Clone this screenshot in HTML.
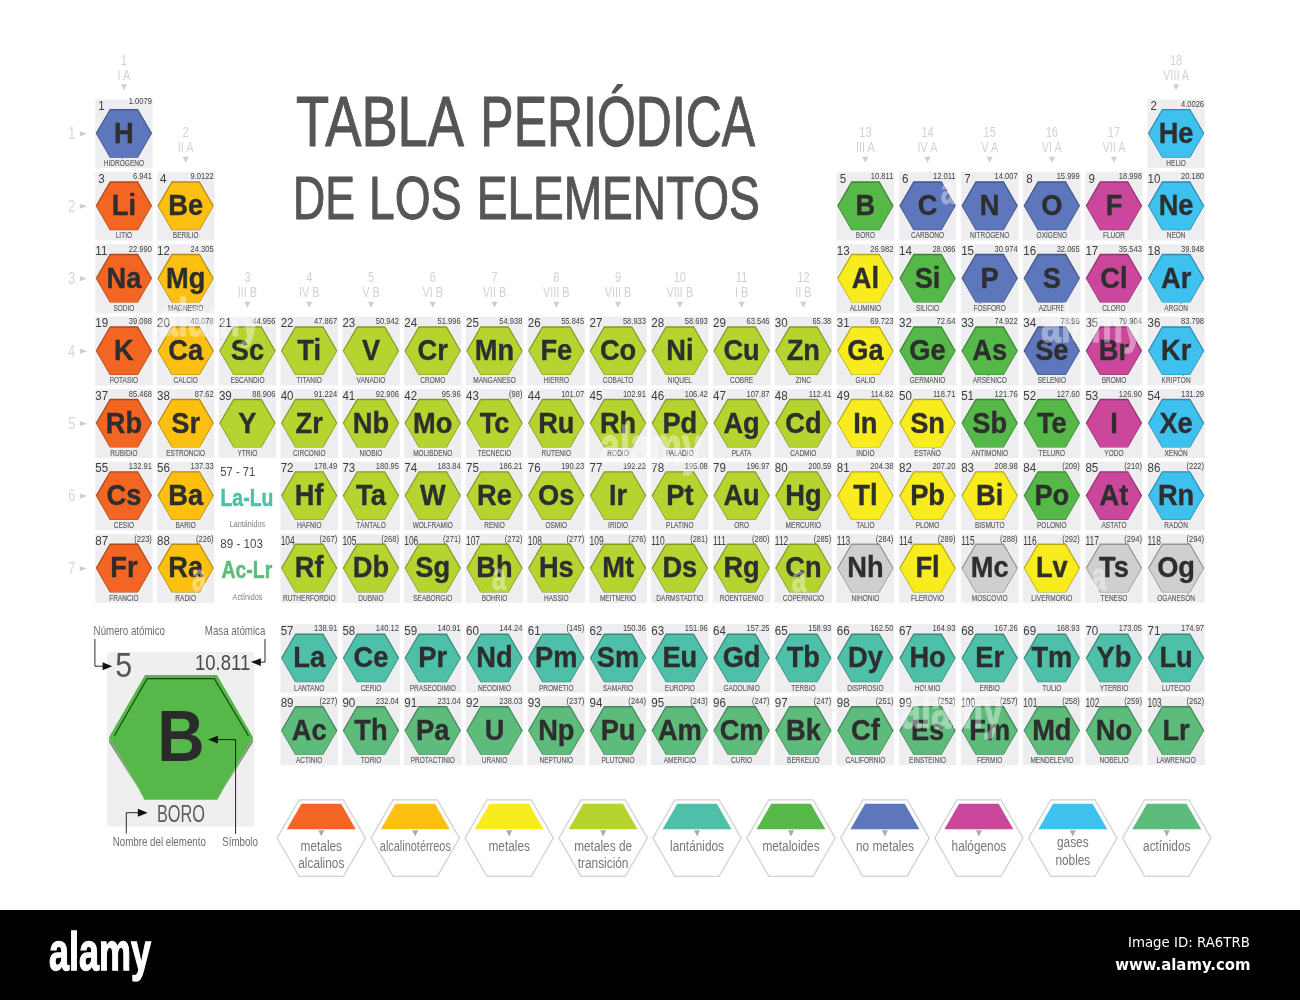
<!DOCTYPE html>
<html lang="es"><head><meta charset="utf-8"><title>Tabla Periódica de los Elementos</title><style>
html,body{margin:0;padding:0;background:#fff}
body{width:1300px;height:1000px;overflow:hidden}
svg{display:block}
text{font-family:"Liberation Sans",Arial,Helvetica,sans-serif}
.cb{fill:#eeeef0}
.zn{font-size:13px;fill:#3d3d3d}
.ms{font-size:8.4px;fill:#444}
.sy{font-size:29px;font-weight:700;fill:#2e2e2e;stroke:#2e2e2e;stroke-width:.35px}
.nm{font-size:8.6px;fill:#606060;stroke:#606060;stroke-width:.15px}
.nm2{font-size:8.6px;fill:#7c7c7c}
.rg{font-size:13.1px;fill:#4a4a4a}
.ll{font-size:23.7px;font-weight:700;stroke-width:.5px}
.gl{font-size:13.8px;fill:#d2d2d2}
.pl{font-size:15.6px;fill:#d6d6d6}
.ti{fill:#555;stroke:#555;stroke-width:1px}
.bsy{font-size:72px;font-weight:700;fill:#2b2b2b}
.bzn{font-size:34.2px;fill:#555}
.bms{font-size:22.1px;fill:#4a4a4a}
.bnm{font-size:24.4px;fill:#5a5a5a}
.kl{font-size:12.5px;fill:#6e6e6e}
.lg{font-size:15px;fill:#777}
.lg2{font-size:14.2px;fill:#777}
.wm text{font-weight:700;font-size:54.5px;fill:#fff;stroke:#fff;stroke-width:1.2px;opacity:.4}
.wm text.wa{font-size:38px;stroke-width:.8px;opacity:.4}
.ft{font-family:"DejaVu Sans","Liberation Sans",sans-serif;fill:#fff}
</style></head><body>
<svg width="1300" height="1000" viewBox="0 0 1300 1000">
<g id="cells">
<rect class="cb" x="95.15" y="99.3" width="57.5" height="68.8"/>
<rect class="cb" x="1147.35" y="99.3" width="57.5" height="68.8"/>
<rect class="cb" x="95.15" y="171.75" width="57.5" height="68.8"/>
<rect class="cb" x="156.92" y="171.75" width="57.5" height="68.8"/>
<rect class="cb" x="836.65" y="171.75" width="57.5" height="68.8"/>
<rect class="cb" x="898.79" y="171.75" width="57.5" height="68.8"/>
<rect class="cb" x="960.93" y="171.75" width="57.5" height="68.8"/>
<rect class="cb" x="1023.07" y="171.75" width="57.5" height="68.8"/>
<rect class="cb" x="1085.21" y="171.75" width="57.5" height="68.8"/>
<rect class="cb" x="1147.35" y="171.75" width="57.5" height="68.8"/>
<rect class="cb" x="95.15" y="244.2" width="57.5" height="68.8"/>
<rect class="cb" x="156.92" y="244.2" width="57.5" height="68.8"/>
<rect class="cb" x="836.65" y="244.2" width="57.5" height="68.8"/>
<rect class="cb" x="898.79" y="244.2" width="57.5" height="68.8"/>
<rect class="cb" x="960.93" y="244.2" width="57.5" height="68.8"/>
<rect class="cb" x="1023.07" y="244.2" width="57.5" height="68.8"/>
<rect class="cb" x="1085.21" y="244.2" width="57.5" height="68.8"/>
<rect class="cb" x="1147.35" y="244.2" width="57.5" height="68.8"/>
<rect class="cb" x="95.15" y="316.65" width="57.5" height="68.8"/>
<rect class="cb" x="156.92" y="316.65" width="57.5" height="68.8"/>
<rect class="cb" x="218.69" y="316.65" width="57.5" height="68.8"/>
<rect class="cb" x="280.46" y="316.65" width="57.5" height="68.8"/>
<rect class="cb" x="342.23" y="316.65" width="57.5" height="68.8"/>
<rect class="cb" x="404" y="316.65" width="57.5" height="68.8"/>
<rect class="cb" x="465.77" y="316.65" width="57.5" height="68.8"/>
<rect class="cb" x="527.54" y="316.65" width="57.5" height="68.8"/>
<rect class="cb" x="589.31" y="316.65" width="57.5" height="68.8"/>
<rect class="cb" x="651.08" y="316.65" width="57.5" height="68.8"/>
<rect class="cb" x="712.85" y="316.65" width="57.5" height="68.8"/>
<rect class="cb" x="774.62" y="316.65" width="57.5" height="68.8"/>
<rect class="cb" x="836.65" y="316.65" width="57.5" height="68.8"/>
<rect class="cb" x="898.79" y="316.65" width="57.5" height="68.8"/>
<rect class="cb" x="960.93" y="316.65" width="57.5" height="68.8"/>
<rect class="cb" x="1023.07" y="316.65" width="57.5" height="68.8"/>
<rect class="cb" x="1085.21" y="316.65" width="57.5" height="68.8"/>
<rect class="cb" x="1147.35" y="316.65" width="57.5" height="68.8"/>
<rect class="cb" x="95.15" y="389.1" width="57.5" height="68.8"/>
<rect class="cb" x="156.92" y="389.1" width="57.5" height="68.8"/>
<rect class="cb" x="218.69" y="389.1" width="57.5" height="68.8"/>
<rect class="cb" x="280.46" y="389.1" width="57.5" height="68.8"/>
<rect class="cb" x="342.23" y="389.1" width="57.5" height="68.8"/>
<rect class="cb" x="404" y="389.1" width="57.5" height="68.8"/>
<rect class="cb" x="465.77" y="389.1" width="57.5" height="68.8"/>
<rect class="cb" x="527.54" y="389.1" width="57.5" height="68.8"/>
<rect class="cb" x="589.31" y="389.1" width="57.5" height="68.8"/>
<rect class="cb" x="651.08" y="389.1" width="57.5" height="68.8"/>
<rect class="cb" x="712.85" y="389.1" width="57.5" height="68.8"/>
<rect class="cb" x="774.62" y="389.1" width="57.5" height="68.8"/>
<rect class="cb" x="836.65" y="389.1" width="57.5" height="68.8"/>
<rect class="cb" x="898.79" y="389.1" width="57.5" height="68.8"/>
<rect class="cb" x="960.93" y="389.1" width="57.5" height="68.8"/>
<rect class="cb" x="1023.07" y="389.1" width="57.5" height="68.8"/>
<rect class="cb" x="1085.21" y="389.1" width="57.5" height="68.8"/>
<rect class="cb" x="1147.35" y="389.1" width="57.5" height="68.8"/>
<rect class="cb" x="95.15" y="461.55" width="57.5" height="68.8"/>
<rect class="cb" x="156.92" y="461.55" width="57.5" height="68.8"/>
<rect class="cb" x="280.46" y="461.55" width="57.5" height="68.8"/>
<rect class="cb" x="342.23" y="461.55" width="57.5" height="68.8"/>
<rect class="cb" x="404" y="461.55" width="57.5" height="68.8"/>
<rect class="cb" x="465.77" y="461.55" width="57.5" height="68.8"/>
<rect class="cb" x="527.54" y="461.55" width="57.5" height="68.8"/>
<rect class="cb" x="589.31" y="461.55" width="57.5" height="68.8"/>
<rect class="cb" x="651.08" y="461.55" width="57.5" height="68.8"/>
<rect class="cb" x="712.85" y="461.55" width="57.5" height="68.8"/>
<rect class="cb" x="774.62" y="461.55" width="57.5" height="68.8"/>
<rect class="cb" x="836.65" y="461.55" width="57.5" height="68.8"/>
<rect class="cb" x="898.79" y="461.55" width="57.5" height="68.8"/>
<rect class="cb" x="960.93" y="461.55" width="57.5" height="68.8"/>
<rect class="cb" x="1023.07" y="461.55" width="57.5" height="68.8"/>
<rect class="cb" x="1085.21" y="461.55" width="57.5" height="68.8"/>
<rect class="cb" x="1147.35" y="461.55" width="57.5" height="68.8"/>
<rect class="cb" x="95.15" y="534" width="57.5" height="68.8"/>
<rect class="cb" x="156.92" y="534" width="57.5" height="68.8"/>
<rect class="cb" x="280.46" y="534" width="57.5" height="68.8"/>
<rect class="cb" x="342.23" y="534" width="57.5" height="68.8"/>
<rect class="cb" x="404" y="534" width="57.5" height="68.8"/>
<rect class="cb" x="465.77" y="534" width="57.5" height="68.8"/>
<rect class="cb" x="527.54" y="534" width="57.5" height="68.8"/>
<rect class="cb" x="589.31" y="534" width="57.5" height="68.8"/>
<rect class="cb" x="651.08" y="534" width="57.5" height="68.8"/>
<rect class="cb" x="712.85" y="534" width="57.5" height="68.8"/>
<rect class="cb" x="774.62" y="534" width="57.5" height="68.8"/>
<rect class="cb" x="836.65" y="534" width="57.5" height="68.8"/>
<rect class="cb" x="898.79" y="534" width="57.5" height="68.8"/>
<rect class="cb" x="960.93" y="534" width="57.5" height="68.8"/>
<rect class="cb" x="1023.07" y="534" width="57.5" height="68.8"/>
<rect class="cb" x="1085.21" y="534" width="57.5" height="68.8"/>
<rect class="cb" x="1147.35" y="534" width="57.5" height="68.8"/>
<rect class="cb" x="280.46" y="623.9" width="57.5" height="68.8"/>
<rect class="cb" x="342.23" y="623.9" width="57.5" height="68.8"/>
<rect class="cb" x="404" y="623.9" width="57.5" height="68.8"/>
<rect class="cb" x="465.77" y="623.9" width="57.5" height="68.8"/>
<rect class="cb" x="527.54" y="623.9" width="57.5" height="68.8"/>
<rect class="cb" x="589.31" y="623.9" width="57.5" height="68.8"/>
<rect class="cb" x="651.08" y="623.9" width="57.5" height="68.8"/>
<rect class="cb" x="712.85" y="623.9" width="57.5" height="68.8"/>
<rect class="cb" x="774.62" y="623.9" width="57.5" height="68.8"/>
<rect class="cb" x="836.65" y="623.9" width="57.5" height="68.8"/>
<rect class="cb" x="898.79" y="623.9" width="57.5" height="68.8"/>
<rect class="cb" x="960.93" y="623.9" width="57.5" height="68.8"/>
<rect class="cb" x="1023.07" y="623.9" width="57.5" height="68.8"/>
<rect class="cb" x="1085.21" y="623.9" width="57.5" height="68.8"/>
<rect class="cb" x="1147.35" y="623.9" width="57.5" height="68.8"/>
<rect class="cb" x="280.46" y="696.4" width="57.5" height="68.8"/>
<rect class="cb" x="342.23" y="696.4" width="57.5" height="68.8"/>
<rect class="cb" x="404" y="696.4" width="57.5" height="68.8"/>
<rect class="cb" x="465.77" y="696.4" width="57.5" height="68.8"/>
<rect class="cb" x="527.54" y="696.4" width="57.5" height="68.8"/>
<rect class="cb" x="589.31" y="696.4" width="57.5" height="68.8"/>
<rect class="cb" x="651.08" y="696.4" width="57.5" height="68.8"/>
<rect class="cb" x="712.85" y="696.4" width="57.5" height="68.8"/>
<rect class="cb" x="774.62" y="696.4" width="57.5" height="68.8"/>
<rect class="cb" x="836.65" y="696.4" width="57.5" height="68.8"/>
<rect class="cb" x="898.79" y="696.4" width="57.5" height="68.8"/>
<rect class="cb" x="960.93" y="696.4" width="57.5" height="68.8"/>
<rect class="cb" x="1023.07" y="696.4" width="57.5" height="68.8"/>
<rect class="cb" x="1085.21" y="696.4" width="57.5" height="68.8"/>
<rect class="cb" x="1147.35" y="696.4" width="57.5" height="68.8"/>
</g>
<g id="hexes">
<polygon fill="#425487" points="95.7,133.3 109.8,108.88 138,108.88 152.1,133.3 138,157.72 109.8,157.72"/>
<polygon fill="#5d76bc" points="96.8,133.8 110.35,110.33 137.45,110.33 151,133.8 137.45,157.27 110.35,157.27"/>
<polygon fill="#2c8aac" points="1147.9,133.3 1162,108.88 1190.2,108.88 1204.3,133.3 1190.2,157.72 1162,157.72"/>
<polygon fill="#3ec1ef" points="1149,133.8 1162.55,110.33 1189.65,110.33 1203.2,133.8 1189.65,157.27 1162.55,157.27"/>
<polygon fill="#ae4818" points="95.7,205.75 109.8,181.33 138,181.33 152.1,205.75 138,230.17 109.8,230.17"/>
<polygon fill="#f26522" points="96.8,206.25 110.35,182.78 137.45,182.78 151,206.25 137.45,229.72 110.35,229.72"/>
<polygon fill="#b68a0b" points="157.47,205.75 171.57,181.33 199.77,181.33 213.87,205.75 199.77,230.17 171.57,230.17"/>
<polygon fill="#fdc010" points="158.57,206.25 172.12,182.78 199.22,182.78 212.77,206.25 199.22,229.72 172.12,229.72"/>
<polygon fill="#3d8433" points="837.2,205.75 851.3,181.33 879.5,181.33 893.6,205.75 879.5,230.17 851.3,230.17"/>
<polygon fill="#55b848" points="838.3,206.25 851.85,182.78 878.95,182.78 892.5,206.25 878.95,229.72 851.85,229.72"/>
<polygon fill="#425487" points="899.34,205.75 913.44,181.33 941.64,181.33 955.74,205.75 941.64,230.17 913.44,230.17"/>
<polygon fill="#5d76bc" points="900.44,206.25 913.99,182.78 941.09,182.78 954.64,206.25 941.09,229.72 913.99,229.72"/>
<polygon fill="#425487" points="961.48,205.75 975.58,181.33 1003.78,181.33 1017.88,205.75 1003.78,230.17 975.58,230.17"/>
<polygon fill="#5d76bc" points="962.58,206.25 976.13,182.78 1003.23,182.78 1016.78,206.25 1003.23,229.72 976.13,229.72"/>
<polygon fill="#425487" points="1023.62,205.75 1037.72,181.33 1065.92,181.33 1080.02,205.75 1065.92,230.17 1037.72,230.17"/>
<polygon fill="#5d76bc" points="1024.72,206.25 1038.27,182.78 1065.37,182.78 1078.92,206.25 1065.37,229.72 1038.27,229.72"/>
<polygon fill="#913370" points="1085.76,205.75 1099.86,181.33 1128.06,181.33 1142.16,205.75 1128.06,230.17 1099.86,230.17"/>
<polygon fill="#ca479c" points="1086.86,206.25 1100.41,182.78 1127.51,182.78 1141.06,206.25 1127.51,229.72 1100.41,229.72"/>
<polygon fill="#2c8aac" points="1147.9,205.75 1162,181.33 1190.2,181.33 1204.3,205.75 1190.2,230.17 1162,230.17"/>
<polygon fill="#3ec1ef" points="1149,206.25 1162.55,182.78 1189.65,182.78 1203.2,206.25 1189.65,229.72 1162.55,229.72"/>
<polygon fill="#ae4818" points="95.7,278.2 109.8,253.78 138,253.78 152.1,278.2 138,302.62 109.8,302.62"/>
<polygon fill="#f26522" points="96.8,278.7 110.35,255.23 137.45,255.23 151,278.7 137.45,302.17 110.35,302.17"/>
<polygon fill="#b68a0b" points="157.47,278.2 171.57,253.78 199.77,253.78 213.87,278.2 199.77,302.62 171.57,302.62"/>
<polygon fill="#fdc010" points="158.57,278.7 172.12,255.23 199.22,255.23 212.77,278.7 199.22,302.17 172.12,302.17"/>
<polygon fill="#b3a915" points="837.2,278.2 851.3,253.78 879.5,253.78 893.6,278.2 879.5,302.62 851.3,302.62"/>
<polygon fill="#f9ec1e" points="838.3,278.7 851.85,255.23 878.95,255.23 892.5,278.7 878.95,302.17 851.85,302.17"/>
<polygon fill="#3d8433" points="899.34,278.2 913.44,253.78 941.64,253.78 955.74,278.2 941.64,302.62 913.44,302.62"/>
<polygon fill="#55b848" points="900.44,278.7 913.99,255.23 941.09,255.23 954.64,278.7 941.09,302.17 913.99,302.17"/>
<polygon fill="#425487" points="961.48,278.2 975.58,253.78 1003.78,253.78 1017.88,278.2 1003.78,302.62 975.58,302.62"/>
<polygon fill="#5d76bc" points="962.58,278.7 976.13,255.23 1003.23,255.23 1016.78,278.7 1003.23,302.17 976.13,302.17"/>
<polygon fill="#425487" points="1023.62,278.2 1037.72,253.78 1065.92,253.78 1080.02,278.2 1065.92,302.62 1037.72,302.62"/>
<polygon fill="#5d76bc" points="1024.72,278.7 1038.27,255.23 1065.37,255.23 1078.92,278.7 1065.37,302.17 1038.27,302.17"/>
<polygon fill="#913370" points="1085.76,278.2 1099.86,253.78 1128.06,253.78 1142.16,278.2 1128.06,302.62 1099.86,302.62"/>
<polygon fill="#ca479c" points="1086.86,278.7 1100.41,255.23 1127.51,255.23 1141.06,278.7 1127.51,302.17 1100.41,302.17"/>
<polygon fill="#2c8aac" points="1147.9,278.2 1162,253.78 1190.2,253.78 1204.3,278.2 1190.2,302.62 1162,302.62"/>
<polygon fill="#3ec1ef" points="1149,278.7 1162.55,255.23 1189.65,255.23 1203.2,278.7 1189.65,302.17 1162.55,302.17"/>
<polygon fill="#ae4818" points="95.7,350.65 109.8,326.23 138,326.23 152.1,350.65 138,375.07 109.8,375.07"/>
<polygon fill="#f26522" points="96.8,351.15 110.35,327.68 137.45,327.68 151,351.15 137.45,374.62 110.35,374.62"/>
<polygon fill="#b68a0b" points="157.47,350.65 171.57,326.23 199.77,326.23 213.87,350.65 199.77,375.07 171.57,375.07"/>
<polygon fill="#fdc010" points="158.57,351.15 172.12,327.68 199.22,327.68 212.77,351.15 199.22,374.62 172.12,374.62"/>
<polygon fill="#839822" points="219.24,350.65 233.34,326.23 261.54,326.23 275.64,350.65 261.54,375.07 233.34,375.07"/>
<polygon fill="#b6d430" points="220.34,351.15 233.89,327.68 260.99,327.68 274.54,351.15 260.99,374.62 233.89,374.62"/>
<polygon fill="#839822" points="281.01,350.65 295.11,326.23 323.31,326.23 337.41,350.65 323.31,375.07 295.11,375.07"/>
<polygon fill="#b6d430" points="282.11,351.15 295.66,327.68 322.76,327.68 336.31,351.15 322.76,374.62 295.66,374.62"/>
<polygon fill="#839822" points="342.78,350.65 356.88,326.23 385.08,326.23 399.18,350.65 385.08,375.07 356.88,375.07"/>
<polygon fill="#b6d430" points="343.88,351.15 357.43,327.68 384.53,327.68 398.08,351.15 384.53,374.62 357.43,374.62"/>
<polygon fill="#839822" points="404.55,350.65 418.65,326.23 446.85,326.23 460.95,350.65 446.85,375.07 418.65,375.07"/>
<polygon fill="#b6d430" points="405.65,351.15 419.2,327.68 446.3,327.68 459.85,351.15 446.3,374.62 419.2,374.62"/>
<polygon fill="#839822" points="466.32,350.65 480.42,326.23 508.62,326.23 522.72,350.65 508.62,375.07 480.42,375.07"/>
<polygon fill="#b6d430" points="467.42,351.15 480.97,327.68 508.07,327.68 521.62,351.15 508.07,374.62 480.97,374.62"/>
<polygon fill="#839822" points="528.09,350.65 542.19,326.23 570.39,326.23 584.49,350.65 570.39,375.07 542.19,375.07"/>
<polygon fill="#b6d430" points="529.19,351.15 542.74,327.68 569.84,327.68 583.39,351.15 569.84,374.62 542.74,374.62"/>
<polygon fill="#839822" points="589.86,350.65 603.96,326.23 632.16,326.23 646.26,350.65 632.16,375.07 603.96,375.07"/>
<polygon fill="#b6d430" points="590.96,351.15 604.51,327.68 631.61,327.68 645.16,351.15 631.61,374.62 604.51,374.62"/>
<polygon fill="#839822" points="651.63,350.65 665.73,326.23 693.93,326.23 708.03,350.65 693.93,375.07 665.73,375.07"/>
<polygon fill="#b6d430" points="652.73,351.15 666.28,327.68 693.38,327.68 706.93,351.15 693.38,374.62 666.28,374.62"/>
<polygon fill="#839822" points="713.4,350.65 727.5,326.23 755.7,326.23 769.8,350.65 755.7,375.07 727.5,375.07"/>
<polygon fill="#b6d430" points="714.5,351.15 728.05,327.68 755.15,327.68 768.7,351.15 755.15,374.62 728.05,374.62"/>
<polygon fill="#839822" points="775.17,350.65 789.27,326.23 817.47,326.23 831.57,350.65 817.47,375.07 789.27,375.07"/>
<polygon fill="#b6d430" points="776.27,351.15 789.82,327.68 816.92,327.68 830.47,351.15 816.92,374.62 789.82,374.62"/>
<polygon fill="#b3a915" points="837.2,350.65 851.3,326.23 879.5,326.23 893.6,350.65 879.5,375.07 851.3,375.07"/>
<polygon fill="#f9ec1e" points="838.3,351.15 851.85,327.68 878.95,327.68 892.5,351.15 878.95,374.62 851.85,374.62"/>
<polygon fill="#3d8433" points="899.34,350.65 913.44,326.23 941.64,326.23 955.74,350.65 941.64,375.07 913.44,375.07"/>
<polygon fill="#55b848" points="900.44,351.15 913.99,327.68 941.09,327.68 954.64,351.15 941.09,374.62 913.99,374.62"/>
<polygon fill="#3d8433" points="961.48,350.65 975.58,326.23 1003.78,326.23 1017.88,350.65 1003.78,375.07 975.58,375.07"/>
<polygon fill="#55b848" points="962.58,351.15 976.13,327.68 1003.23,327.68 1016.78,351.15 1003.23,374.62 976.13,374.62"/>
<polygon fill="#425487" points="1023.62,350.65 1037.72,326.23 1065.92,326.23 1080.02,350.65 1065.92,375.07 1037.72,375.07"/>
<polygon fill="#5d76bc" points="1024.72,351.15 1038.27,327.68 1065.37,327.68 1078.92,351.15 1065.37,374.62 1038.27,374.62"/>
<polygon fill="#913370" points="1085.76,350.65 1099.86,326.23 1128.06,326.23 1142.16,350.65 1128.06,375.07 1099.86,375.07"/>
<polygon fill="#ca479c" points="1086.86,351.15 1100.41,327.68 1127.51,327.68 1141.06,351.15 1127.51,374.62 1100.41,374.62"/>
<polygon fill="#2c8aac" points="1147.9,350.65 1162,326.23 1190.2,326.23 1204.3,350.65 1190.2,375.07 1162,375.07"/>
<polygon fill="#3ec1ef" points="1149,351.15 1162.55,327.68 1189.65,327.68 1203.2,351.15 1189.65,374.62 1162.55,374.62"/>
<polygon fill="#ae4818" points="95.7,423.1 109.8,398.68 138,398.68 152.1,423.1 138,447.52 109.8,447.52"/>
<polygon fill="#f26522" points="96.8,423.6 110.35,400.13 137.45,400.13 151,423.6 137.45,447.07 110.35,447.07"/>
<polygon fill="#b68a0b" points="157.47,423.1 171.57,398.68 199.77,398.68 213.87,423.1 199.77,447.52 171.57,447.52"/>
<polygon fill="#fdc010" points="158.57,423.6 172.12,400.13 199.22,400.13 212.77,423.6 199.22,447.07 172.12,447.07"/>
<polygon fill="#839822" points="219.24,423.1 233.34,398.68 261.54,398.68 275.64,423.1 261.54,447.52 233.34,447.52"/>
<polygon fill="#b6d430" points="220.34,423.6 233.89,400.13 260.99,400.13 274.54,423.6 260.99,447.07 233.89,447.07"/>
<polygon fill="#839822" points="281.01,423.1 295.11,398.68 323.31,398.68 337.41,423.1 323.31,447.52 295.11,447.52"/>
<polygon fill="#b6d430" points="282.11,423.6 295.66,400.13 322.76,400.13 336.31,423.6 322.76,447.07 295.66,447.07"/>
<polygon fill="#839822" points="342.78,423.1 356.88,398.68 385.08,398.68 399.18,423.1 385.08,447.52 356.88,447.52"/>
<polygon fill="#b6d430" points="343.88,423.6 357.43,400.13 384.53,400.13 398.08,423.6 384.53,447.07 357.43,447.07"/>
<polygon fill="#839822" points="404.55,423.1 418.65,398.68 446.85,398.68 460.95,423.1 446.85,447.52 418.65,447.52"/>
<polygon fill="#b6d430" points="405.65,423.6 419.2,400.13 446.3,400.13 459.85,423.6 446.3,447.07 419.2,447.07"/>
<polygon fill="#839822" points="466.32,423.1 480.42,398.68 508.62,398.68 522.72,423.1 508.62,447.52 480.42,447.52"/>
<polygon fill="#b6d430" points="467.42,423.6 480.97,400.13 508.07,400.13 521.62,423.6 508.07,447.07 480.97,447.07"/>
<polygon fill="#839822" points="528.09,423.1 542.19,398.68 570.39,398.68 584.49,423.1 570.39,447.52 542.19,447.52"/>
<polygon fill="#b6d430" points="529.19,423.6 542.74,400.13 569.84,400.13 583.39,423.6 569.84,447.07 542.74,447.07"/>
<polygon fill="#839822" points="589.86,423.1 603.96,398.68 632.16,398.68 646.26,423.1 632.16,447.52 603.96,447.52"/>
<polygon fill="#b6d430" points="590.96,423.6 604.51,400.13 631.61,400.13 645.16,423.6 631.61,447.07 604.51,447.07"/>
<polygon fill="#839822" points="651.63,423.1 665.73,398.68 693.93,398.68 708.03,423.1 693.93,447.52 665.73,447.52"/>
<polygon fill="#b6d430" points="652.73,423.6 666.28,400.13 693.38,400.13 706.93,423.6 693.38,447.07 666.28,447.07"/>
<polygon fill="#839822" points="713.4,423.1 727.5,398.68 755.7,398.68 769.8,423.1 755.7,447.52 727.5,447.52"/>
<polygon fill="#b6d430" points="714.5,423.6 728.05,400.13 755.15,400.13 768.7,423.6 755.15,447.07 728.05,447.07"/>
<polygon fill="#839822" points="775.17,423.1 789.27,398.68 817.47,398.68 831.57,423.1 817.47,447.52 789.27,447.52"/>
<polygon fill="#b6d430" points="776.27,423.6 789.82,400.13 816.92,400.13 830.47,423.6 816.92,447.07 789.82,447.07"/>
<polygon fill="#b3a915" points="837.2,423.1 851.3,398.68 879.5,398.68 893.6,423.1 879.5,447.52 851.3,447.52"/>
<polygon fill="#f9ec1e" points="838.3,423.6 851.85,400.13 878.95,400.13 892.5,423.6 878.95,447.07 851.85,447.07"/>
<polygon fill="#b3a915" points="899.34,423.1 913.44,398.68 941.64,398.68 955.74,423.1 941.64,447.52 913.44,447.52"/>
<polygon fill="#f9ec1e" points="900.44,423.6 913.99,400.13 941.09,400.13 954.64,423.6 941.09,447.07 913.99,447.07"/>
<polygon fill="#3d8433" points="961.48,423.1 975.58,398.68 1003.78,398.68 1017.88,423.1 1003.78,447.52 975.58,447.52"/>
<polygon fill="#55b848" points="962.58,423.6 976.13,400.13 1003.23,400.13 1016.78,423.6 1003.23,447.07 976.13,447.07"/>
<polygon fill="#3d8433" points="1023.62,423.1 1037.72,398.68 1065.92,398.68 1080.02,423.1 1065.92,447.52 1037.72,447.52"/>
<polygon fill="#55b848" points="1024.72,423.6 1038.27,400.13 1065.37,400.13 1078.92,423.6 1065.37,447.07 1038.27,447.07"/>
<polygon fill="#913370" points="1085.76,423.1 1099.86,398.68 1128.06,398.68 1142.16,423.1 1128.06,447.52 1099.86,447.52"/>
<polygon fill="#ca479c" points="1086.86,423.6 1100.41,400.13 1127.51,400.13 1141.06,423.6 1127.51,447.07 1100.41,447.07"/>
<polygon fill="#2c8aac" points="1147.9,423.1 1162,398.68 1190.2,398.68 1204.3,423.1 1190.2,447.52 1162,447.52"/>
<polygon fill="#3ec1ef" points="1149,423.6 1162.55,400.13 1189.65,400.13 1203.2,423.6 1189.65,447.07 1162.55,447.07"/>
<polygon fill="#ae4818" points="95.7,495.55 109.8,471.13 138,471.13 152.1,495.55 138,519.97 109.8,519.97"/>
<polygon fill="#f26522" points="96.8,496.05 110.35,472.58 137.45,472.58 151,496.05 137.45,519.52 110.35,519.52"/>
<polygon fill="#b68a0b" points="157.47,495.55 171.57,471.13 199.77,471.13 213.87,495.55 199.77,519.97 171.57,519.97"/>
<polygon fill="#fdc010" points="158.57,496.05 172.12,472.58 199.22,472.58 212.77,496.05 199.22,519.52 172.12,519.52"/>
<polygon fill="#839822" points="281.01,495.55 295.11,471.13 323.31,471.13 337.41,495.55 323.31,519.97 295.11,519.97"/>
<polygon fill="#b6d430" points="282.11,496.05 295.66,472.58 322.76,472.58 336.31,496.05 322.76,519.52 295.66,519.52"/>
<polygon fill="#839822" points="342.78,495.55 356.88,471.13 385.08,471.13 399.18,495.55 385.08,519.97 356.88,519.97"/>
<polygon fill="#b6d430" points="343.88,496.05 357.43,472.58 384.53,472.58 398.08,496.05 384.53,519.52 357.43,519.52"/>
<polygon fill="#839822" points="404.55,495.55 418.65,471.13 446.85,471.13 460.95,495.55 446.85,519.97 418.65,519.97"/>
<polygon fill="#b6d430" points="405.65,496.05 419.2,472.58 446.3,472.58 459.85,496.05 446.3,519.52 419.2,519.52"/>
<polygon fill="#839822" points="466.32,495.55 480.42,471.13 508.62,471.13 522.72,495.55 508.62,519.97 480.42,519.97"/>
<polygon fill="#b6d430" points="467.42,496.05 480.97,472.58 508.07,472.58 521.62,496.05 508.07,519.52 480.97,519.52"/>
<polygon fill="#839822" points="528.09,495.55 542.19,471.13 570.39,471.13 584.49,495.55 570.39,519.97 542.19,519.97"/>
<polygon fill="#b6d430" points="529.19,496.05 542.74,472.58 569.84,472.58 583.39,496.05 569.84,519.52 542.74,519.52"/>
<polygon fill="#839822" points="589.86,495.55 603.96,471.13 632.16,471.13 646.26,495.55 632.16,519.97 603.96,519.97"/>
<polygon fill="#b6d430" points="590.96,496.05 604.51,472.58 631.61,472.58 645.16,496.05 631.61,519.52 604.51,519.52"/>
<polygon fill="#839822" points="651.63,495.55 665.73,471.13 693.93,471.13 708.03,495.55 693.93,519.97 665.73,519.97"/>
<polygon fill="#b6d430" points="652.73,496.05 666.28,472.58 693.38,472.58 706.93,496.05 693.38,519.52 666.28,519.52"/>
<polygon fill="#839822" points="713.4,495.55 727.5,471.13 755.7,471.13 769.8,495.55 755.7,519.97 727.5,519.97"/>
<polygon fill="#b6d430" points="714.5,496.05 728.05,472.58 755.15,472.58 768.7,496.05 755.15,519.52 728.05,519.52"/>
<polygon fill="#839822" points="775.17,495.55 789.27,471.13 817.47,471.13 831.57,495.55 817.47,519.97 789.27,519.97"/>
<polygon fill="#b6d430" points="776.27,496.05 789.82,472.58 816.92,472.58 830.47,496.05 816.92,519.52 789.82,519.52"/>
<polygon fill="#b3a915" points="837.2,495.55 851.3,471.13 879.5,471.13 893.6,495.55 879.5,519.97 851.3,519.97"/>
<polygon fill="#f9ec1e" points="838.3,496.05 851.85,472.58 878.95,472.58 892.5,496.05 878.95,519.52 851.85,519.52"/>
<polygon fill="#b3a915" points="899.34,495.55 913.44,471.13 941.64,471.13 955.74,495.55 941.64,519.97 913.44,519.97"/>
<polygon fill="#f9ec1e" points="900.44,496.05 913.99,472.58 941.09,472.58 954.64,496.05 941.09,519.52 913.99,519.52"/>
<polygon fill="#b3a915" points="961.48,495.55 975.58,471.13 1003.78,471.13 1017.88,495.55 1003.78,519.97 975.58,519.97"/>
<polygon fill="#f9ec1e" points="962.58,496.05 976.13,472.58 1003.23,472.58 1016.78,496.05 1003.23,519.52 976.13,519.52"/>
<polygon fill="#3d8433" points="1023.62,495.55 1037.72,471.13 1065.92,471.13 1080.02,495.55 1065.92,519.97 1037.72,519.97"/>
<polygon fill="#55b848" points="1024.72,496.05 1038.27,472.58 1065.37,472.58 1078.92,496.05 1065.37,519.52 1038.27,519.52"/>
<polygon fill="#913370" points="1085.76,495.55 1099.86,471.13 1128.06,471.13 1142.16,495.55 1128.06,519.97 1099.86,519.97"/>
<polygon fill="#ca479c" points="1086.86,496.05 1100.41,472.58 1127.51,472.58 1141.06,496.05 1127.51,519.52 1100.41,519.52"/>
<polygon fill="#2c8aac" points="1147.9,495.55 1162,471.13 1190.2,471.13 1204.3,495.55 1190.2,519.97 1162,519.97"/>
<polygon fill="#3ec1ef" points="1149,496.05 1162.55,472.58 1189.65,472.58 1203.2,496.05 1189.65,519.52 1162.55,519.52"/>
<polygon fill="#ae4818" points="95.7,568 109.8,543.58 138,543.58 152.1,568 138,592.42 109.8,592.42"/>
<polygon fill="#f26522" points="96.8,568.5 110.35,545.03 137.45,545.03 151,568.5 137.45,591.97 110.35,591.97"/>
<polygon fill="#b68a0b" points="157.47,568 171.57,543.58 199.77,543.58 213.87,568 199.77,592.42 171.57,592.42"/>
<polygon fill="#fdc010" points="158.57,568.5 172.12,545.03 199.22,545.03 212.77,568.5 199.22,591.97 172.12,591.97"/>
<polygon fill="#839822" points="281.01,568 295.11,543.58 323.31,543.58 337.41,568 323.31,592.42 295.11,592.42"/>
<polygon fill="#b6d430" points="282.11,568.5 295.66,545.03 322.76,545.03 336.31,568.5 322.76,591.97 295.66,591.97"/>
<polygon fill="#839822" points="342.78,568 356.88,543.58 385.08,543.58 399.18,568 385.08,592.42 356.88,592.42"/>
<polygon fill="#b6d430" points="343.88,568.5 357.43,545.03 384.53,545.03 398.08,568.5 384.53,591.97 357.43,591.97"/>
<polygon fill="#839822" points="404.55,568 418.65,543.58 446.85,543.58 460.95,568 446.85,592.42 418.65,592.42"/>
<polygon fill="#b6d430" points="405.65,568.5 419.2,545.03 446.3,545.03 459.85,568.5 446.3,591.97 419.2,591.97"/>
<polygon fill="#839822" points="466.32,568 480.42,543.58 508.62,543.58 522.72,568 508.62,592.42 480.42,592.42"/>
<polygon fill="#b6d430" points="467.42,568.5 480.97,545.03 508.07,545.03 521.62,568.5 508.07,591.97 480.97,591.97"/>
<polygon fill="#839822" points="528.09,568 542.19,543.58 570.39,543.58 584.49,568 570.39,592.42 542.19,592.42"/>
<polygon fill="#b6d430" points="529.19,568.5 542.74,545.03 569.84,545.03 583.39,568.5 569.84,591.97 542.74,591.97"/>
<polygon fill="#839822" points="589.86,568 603.96,543.58 632.16,543.58 646.26,568 632.16,592.42 603.96,592.42"/>
<polygon fill="#b6d430" points="590.96,568.5 604.51,545.03 631.61,545.03 645.16,568.5 631.61,591.97 604.51,591.97"/>
<polygon fill="#839822" points="651.63,568 665.73,543.58 693.93,543.58 708.03,568 693.93,592.42 665.73,592.42"/>
<polygon fill="#b6d430" points="652.73,568.5 666.28,545.03 693.38,545.03 706.93,568.5 693.38,591.97 666.28,591.97"/>
<polygon fill="#839822" points="713.4,568 727.5,543.58 755.7,543.58 769.8,568 755.7,592.42 727.5,592.42"/>
<polygon fill="#b6d430" points="714.5,568.5 728.05,545.03 755.15,545.03 768.7,568.5 755.15,591.97 728.05,591.97"/>
<polygon fill="#839822" points="775.17,568 789.27,543.58 817.47,543.58 831.57,568 817.47,592.42 789.27,592.42"/>
<polygon fill="#b6d430" points="776.27,568.5 789.82,545.03 816.92,545.03 830.47,568.5 816.92,591.97 789.82,591.97"/>
<polygon fill="#959595" points="837.2,568 851.3,543.58 879.5,543.58 893.6,568 879.5,592.42 851.3,592.42"/>
<polygon fill="#cfcfcf" points="838.3,568.5 851.85,545.03 878.95,545.03 892.5,568.5 878.95,591.97 851.85,591.97"/>
<polygon fill="#b3a915" points="899.34,568 913.44,543.58 941.64,543.58 955.74,568 941.64,592.42 913.44,592.42"/>
<polygon fill="#f9ec1e" points="900.44,568.5 913.99,545.03 941.09,545.03 954.64,568.5 941.09,591.97 913.99,591.97"/>
<polygon fill="#959595" points="961.48,568 975.58,543.58 1003.78,543.58 1017.88,568 1003.78,592.42 975.58,592.42"/>
<polygon fill="#cfcfcf" points="962.58,568.5 976.13,545.03 1003.23,545.03 1016.78,568.5 1003.23,591.97 976.13,591.97"/>
<polygon fill="#b3a915" points="1023.62,568 1037.72,543.58 1065.92,543.58 1080.02,568 1065.92,592.42 1037.72,592.42"/>
<polygon fill="#f9ec1e" points="1024.72,568.5 1038.27,545.03 1065.37,545.03 1078.92,568.5 1065.37,591.97 1038.27,591.97"/>
<polygon fill="#959595" points="1085.76,568 1099.86,543.58 1128.06,543.58 1142.16,568 1128.06,592.42 1099.86,592.42"/>
<polygon fill="#cfcfcf" points="1086.86,568.5 1100.41,545.03 1127.51,545.03 1141.06,568.5 1127.51,591.97 1100.41,591.97"/>
<polygon fill="#959595" points="1147.9,568 1162,543.58 1190.2,543.58 1204.3,568 1190.2,592.42 1162,592.42"/>
<polygon fill="#cfcfcf" points="1149,568.5 1162.55,545.03 1189.65,545.03 1203.2,568.5 1189.65,591.97 1162.55,591.97"/>
<polygon fill="#388979" points="281.01,657.9 295.11,633.48 323.31,633.48 337.41,657.9 323.31,682.32 295.11,682.32"/>
<polygon fill="#4ebfa9" points="282.11,658.4 295.66,634.93 322.76,634.93 336.31,658.4 322.76,681.87 295.66,681.87"/>
<polygon fill="#388979" points="342.78,657.9 356.88,633.48 385.08,633.48 399.18,657.9 385.08,682.32 356.88,682.32"/>
<polygon fill="#4ebfa9" points="343.88,658.4 357.43,634.93 384.53,634.93 398.08,658.4 384.53,681.87 357.43,681.87"/>
<polygon fill="#388979" points="404.55,657.9 418.65,633.48 446.85,633.48 460.95,657.9 446.85,682.32 418.65,682.32"/>
<polygon fill="#4ebfa9" points="405.65,658.4 419.2,634.93 446.3,634.93 459.85,658.4 446.3,681.87 419.2,681.87"/>
<polygon fill="#388979" points="466.32,657.9 480.42,633.48 508.62,633.48 522.72,657.9 508.62,682.32 480.42,682.32"/>
<polygon fill="#4ebfa9" points="467.42,658.4 480.97,634.93 508.07,634.93 521.62,658.4 508.07,681.87 480.97,681.87"/>
<polygon fill="#388979" points="528.09,657.9 542.19,633.48 570.39,633.48 584.49,657.9 570.39,682.32 542.19,682.32"/>
<polygon fill="#4ebfa9" points="529.19,658.4 542.74,634.93 569.84,634.93 583.39,658.4 569.84,681.87 542.74,681.87"/>
<polygon fill="#388979" points="589.86,657.9 603.96,633.48 632.16,633.48 646.26,657.9 632.16,682.32 603.96,682.32"/>
<polygon fill="#4ebfa9" points="590.96,658.4 604.51,634.93 631.61,634.93 645.16,658.4 631.61,681.87 604.51,681.87"/>
<polygon fill="#388979" points="651.63,657.9 665.73,633.48 693.93,633.48 708.03,657.9 693.93,682.32 665.73,682.32"/>
<polygon fill="#4ebfa9" points="652.73,658.4 666.28,634.93 693.38,634.93 706.93,658.4 693.38,681.87 666.28,681.87"/>
<polygon fill="#388979" points="713.4,657.9 727.5,633.48 755.7,633.48 769.8,657.9 755.7,682.32 727.5,682.32"/>
<polygon fill="#4ebfa9" points="714.5,658.4 728.05,634.93 755.15,634.93 768.7,658.4 755.15,681.87 728.05,681.87"/>
<polygon fill="#388979" points="775.17,657.9 789.27,633.48 817.47,633.48 831.57,657.9 817.47,682.32 789.27,682.32"/>
<polygon fill="#4ebfa9" points="776.27,658.4 789.82,634.93 816.92,634.93 830.47,658.4 816.92,681.87 789.82,681.87"/>
<polygon fill="#388979" points="837.2,657.9 851.3,633.48 879.5,633.48 893.6,657.9 879.5,682.32 851.3,682.32"/>
<polygon fill="#4ebfa9" points="838.3,658.4 851.85,634.93 878.95,634.93 892.5,658.4 878.95,681.87 851.85,681.87"/>
<polygon fill="#388979" points="899.34,657.9 913.44,633.48 941.64,633.48 955.74,657.9 941.64,682.32 913.44,682.32"/>
<polygon fill="#4ebfa9" points="900.44,658.4 913.99,634.93 941.09,634.93 954.64,658.4 941.09,681.87 913.99,681.87"/>
<polygon fill="#388979" points="961.48,657.9 975.58,633.48 1003.78,633.48 1017.88,657.9 1003.78,682.32 975.58,682.32"/>
<polygon fill="#4ebfa9" points="962.58,658.4 976.13,634.93 1003.23,634.93 1016.78,658.4 1003.23,681.87 976.13,681.87"/>
<polygon fill="#388979" points="1023.62,657.9 1037.72,633.48 1065.92,633.48 1080.02,657.9 1065.92,682.32 1037.72,682.32"/>
<polygon fill="#4ebfa9" points="1024.72,658.4 1038.27,634.93 1065.37,634.93 1078.92,658.4 1065.37,681.87 1038.27,681.87"/>
<polygon fill="#388979" points="1085.76,657.9 1099.86,633.48 1128.06,633.48 1142.16,657.9 1128.06,682.32 1099.86,682.32"/>
<polygon fill="#4ebfa9" points="1086.86,658.4 1100.41,634.93 1127.51,634.93 1141.06,658.4 1127.51,681.87 1100.41,681.87"/>
<polygon fill="#388979" points="1147.9,657.9 1162,633.48 1190.2,633.48 1204.3,657.9 1190.2,682.32 1162,682.32"/>
<polygon fill="#4ebfa9" points="1149,658.4 1162.55,634.93 1189.65,634.93 1203.2,658.4 1189.65,681.87 1162.55,681.87"/>
<polygon fill="#428658" points="281.01,730.4 295.11,705.98 323.31,705.98 337.41,730.4 323.31,754.82 295.11,754.82"/>
<polygon fill="#5dbb7b" points="282.11,730.9 295.66,707.43 322.76,707.43 336.31,730.9 322.76,754.37 295.66,754.37"/>
<polygon fill="#428658" points="342.78,730.4 356.88,705.98 385.08,705.98 399.18,730.4 385.08,754.82 356.88,754.82"/>
<polygon fill="#5dbb7b" points="343.88,730.9 357.43,707.43 384.53,707.43 398.08,730.9 384.53,754.37 357.43,754.37"/>
<polygon fill="#428658" points="404.55,730.4 418.65,705.98 446.85,705.98 460.95,730.4 446.85,754.82 418.65,754.82"/>
<polygon fill="#5dbb7b" points="405.65,730.9 419.2,707.43 446.3,707.43 459.85,730.9 446.3,754.37 419.2,754.37"/>
<polygon fill="#428658" points="466.32,730.4 480.42,705.98 508.62,705.98 522.72,730.4 508.62,754.82 480.42,754.82"/>
<polygon fill="#5dbb7b" points="467.42,730.9 480.97,707.43 508.07,707.43 521.62,730.9 508.07,754.37 480.97,754.37"/>
<polygon fill="#428658" points="528.09,730.4 542.19,705.98 570.39,705.98 584.49,730.4 570.39,754.82 542.19,754.82"/>
<polygon fill="#5dbb7b" points="529.19,730.9 542.74,707.43 569.84,707.43 583.39,730.9 569.84,754.37 542.74,754.37"/>
<polygon fill="#428658" points="589.86,730.4 603.96,705.98 632.16,705.98 646.26,730.4 632.16,754.82 603.96,754.82"/>
<polygon fill="#5dbb7b" points="590.96,730.9 604.51,707.43 631.61,707.43 645.16,730.9 631.61,754.37 604.51,754.37"/>
<polygon fill="#428658" points="651.63,730.4 665.73,705.98 693.93,705.98 708.03,730.4 693.93,754.82 665.73,754.82"/>
<polygon fill="#5dbb7b" points="652.73,730.9 666.28,707.43 693.38,707.43 706.93,730.9 693.38,754.37 666.28,754.37"/>
<polygon fill="#428658" points="713.4,730.4 727.5,705.98 755.7,705.98 769.8,730.4 755.7,754.82 727.5,754.82"/>
<polygon fill="#5dbb7b" points="714.5,730.9 728.05,707.43 755.15,707.43 768.7,730.9 755.15,754.37 728.05,754.37"/>
<polygon fill="#428658" points="775.17,730.4 789.27,705.98 817.47,705.98 831.57,730.4 817.47,754.82 789.27,754.82"/>
<polygon fill="#5dbb7b" points="776.27,730.9 789.82,707.43 816.92,707.43 830.47,730.9 816.92,754.37 789.82,754.37"/>
<polygon fill="#428658" points="837.2,730.4 851.3,705.98 879.5,705.98 893.6,730.4 879.5,754.82 851.3,754.82"/>
<polygon fill="#5dbb7b" points="838.3,730.9 851.85,707.43 878.95,707.43 892.5,730.9 878.95,754.37 851.85,754.37"/>
<polygon fill="#428658" points="899.34,730.4 913.44,705.98 941.64,705.98 955.74,730.4 941.64,754.82 913.44,754.82"/>
<polygon fill="#5dbb7b" points="900.44,730.9 913.99,707.43 941.09,707.43 954.64,730.9 941.09,754.37 913.99,754.37"/>
<polygon fill="#428658" points="961.48,730.4 975.58,705.98 1003.78,705.98 1017.88,730.4 1003.78,754.82 975.58,754.82"/>
<polygon fill="#5dbb7b" points="962.58,730.9 976.13,707.43 1003.23,707.43 1016.78,730.9 1003.23,754.37 976.13,754.37"/>
<polygon fill="#428658" points="1023.62,730.4 1037.72,705.98 1065.92,705.98 1080.02,730.4 1065.92,754.82 1037.72,754.82"/>
<polygon fill="#5dbb7b" points="1024.72,730.9 1038.27,707.43 1065.37,707.43 1078.92,730.9 1065.37,754.37 1038.27,754.37"/>
<polygon fill="#428658" points="1085.76,730.4 1099.86,705.98 1128.06,705.98 1142.16,730.4 1128.06,754.82 1099.86,754.82"/>
<polygon fill="#5dbb7b" points="1086.86,730.9 1100.41,707.43 1127.51,707.43 1141.06,730.9 1127.51,754.37 1100.41,754.37"/>
<polygon fill="#428658" points="1147.9,730.4 1162,705.98 1190.2,705.98 1204.3,730.4 1190.2,754.82 1162,754.82"/>
<polygon fill="#5dbb7b" points="1149,730.9 1162.55,707.43 1189.65,707.43 1203.2,730.9 1189.65,754.37 1162.55,754.37"/>
</g>
<g id="labels">
<text class="zn" transform="translate(98.35 110.1) scale(0.89 1)">1</text>
<text class="ms" transform="translate(151.85 104.1) scale(0.9 1)" text-anchor="end">1.0079</text>
<text class="sy" transform="translate(123.9 142.7) scale(0.94 1)" text-anchor="middle">H</text>
<text class="nm" transform="translate(123.9 165.9) scale(0.76 1)" text-anchor="middle">HIDRÓGENO</text>
<text class="zn" transform="translate(1150.55 110.1) scale(0.89 1)">2</text>
<text class="ms" transform="translate(1204.05 106.8) scale(0.9 1)" text-anchor="end">4.0026</text>
<text class="sy" transform="translate(1176.1 142.7) scale(0.94 1)" text-anchor="middle">He</text>
<text class="nm" transform="translate(1176.1 165.9) scale(0.76 1)" text-anchor="middle">HELIO</text>
<text class="zn" transform="translate(98.35 182.55) scale(0.89 1)">3</text>
<text class="ms" transform="translate(151.85 179.25) scale(0.9 1)" text-anchor="end">6.941</text>
<text class="sy" transform="translate(123.9 215.15) scale(0.94 1)" text-anchor="middle">Li</text>
<text class="nm" transform="translate(123.9 238.35) scale(0.76 1)" text-anchor="middle">LITIO</text>
<text class="zn" transform="translate(160.12 182.55) scale(0.89 1)">4</text>
<text class="ms" transform="translate(213.62 179.25) scale(0.9 1)" text-anchor="end">9.0122</text>
<text class="sy" transform="translate(185.67 215.15) scale(0.94 1)" text-anchor="middle">Be</text>
<text class="nm" transform="translate(185.67 238.35) scale(0.76 1)" text-anchor="middle">BERILIO</text>
<text class="zn" transform="translate(839.85 182.55) scale(0.89 1)">5</text>
<text class="ms" transform="translate(893.35 179.25) scale(0.9 1)" text-anchor="end">10.811</text>
<text class="sy" transform="translate(865.4 215.15) scale(0.94 1)" text-anchor="middle">B</text>
<text class="nm" transform="translate(865.4 238.35) scale(0.76 1)" text-anchor="middle">BORO</text>
<text class="zn" transform="translate(901.99 182.55) scale(0.89 1)">6</text>
<text class="ms" transform="translate(955.49 179.25) scale(0.9 1)" text-anchor="end">12.011</text>
<text class="sy" transform="translate(927.54 215.15) scale(0.94 1)" text-anchor="middle">C</text>
<text class="nm" transform="translate(927.54 238.35) scale(0.76 1)" text-anchor="middle">CARBONO</text>
<text class="zn" transform="translate(964.13 182.55) scale(0.89 1)">7</text>
<text class="ms" transform="translate(1017.63 179.25) scale(0.9 1)" text-anchor="end">14.007</text>
<text class="sy" transform="translate(989.68 215.15) scale(0.94 1)" text-anchor="middle">N</text>
<text class="nm" transform="translate(989.68 238.35) scale(0.76 1)" text-anchor="middle">NITRÓGENO</text>
<text class="zn" transform="translate(1026.27 182.55) scale(0.89 1)">8</text>
<text class="ms" transform="translate(1079.77 179.25) scale(0.9 1)" text-anchor="end">15.999</text>
<text class="sy" transform="translate(1051.82 215.15) scale(0.94 1)" text-anchor="middle">O</text>
<text class="nm" transform="translate(1051.82 238.35) scale(0.76 1)" text-anchor="middle">OXÍGENO</text>
<text class="zn" transform="translate(1088.41 182.55) scale(0.89 1)">9</text>
<text class="ms" transform="translate(1141.91 179.25) scale(0.9 1)" text-anchor="end">18.998</text>
<text class="sy" transform="translate(1113.96 215.15) scale(0.94 1)" text-anchor="middle">F</text>
<text class="nm" transform="translate(1113.96 238.35) scale(0.76 1)" text-anchor="middle">FLÚOR</text>
<text class="zn" transform="translate(1147.55 182.55) scale(0.89 1)">10</text>
<text class="ms" transform="translate(1204.05 179.25) scale(0.9 1)" text-anchor="end">20.180</text>
<text class="sy" transform="translate(1176.1 215.15) scale(0.94 1)" text-anchor="middle">Ne</text>
<text class="nm" transform="translate(1176.1 238.35) scale(0.76 1)" text-anchor="middle">NEÓN</text>
<text class="zn" transform="translate(95.35 255) scale(0.89 1)">11</text>
<text class="ms" transform="translate(151.85 251.7) scale(0.9 1)" text-anchor="end">22.990</text>
<text class="sy" transform="translate(123.9 287.6) scale(0.94 1)" text-anchor="middle">Na</text>
<text class="nm" transform="translate(123.9 310.8) scale(0.76 1)" text-anchor="middle">SODIO</text>
<text class="zn" transform="translate(157.12 255) scale(0.89 1)">12</text>
<text class="ms" transform="translate(213.62 251.7) scale(0.9 1)" text-anchor="end">24.305</text>
<text class="sy" transform="translate(185.67 287.6) scale(0.94 1)" text-anchor="middle">Mg</text>
<text class="nm" transform="translate(185.67 310.8) scale(0.76 1)" text-anchor="middle">MAGNESIO</text>
<text class="zn" transform="translate(836.85 255) scale(0.89 1)">13</text>
<text class="ms" transform="translate(893.35 251.7) scale(0.9 1)" text-anchor="end">26.982</text>
<text class="sy" transform="translate(865.4 287.6) scale(0.94 1)" text-anchor="middle">Al</text>
<text class="nm" transform="translate(865.4 310.8) scale(0.76 1)" text-anchor="middle">ALUMINIO</text>
<text class="zn" transform="translate(898.99 255) scale(0.89 1)">14</text>
<text class="ms" transform="translate(955.49 251.7) scale(0.9 1)" text-anchor="end">28.086</text>
<text class="sy" transform="translate(927.54 287.6) scale(0.94 1)" text-anchor="middle">Si</text>
<text class="nm" transform="translate(927.54 310.8) scale(0.76 1)" text-anchor="middle">SILICIO</text>
<text class="zn" transform="translate(961.13 255) scale(0.89 1)">15</text>
<text class="ms" transform="translate(1017.63 251.7) scale(0.9 1)" text-anchor="end">30.974</text>
<text class="sy" transform="translate(989.68 287.6) scale(0.94 1)" text-anchor="middle">P</text>
<text class="nm" transform="translate(989.68 310.8) scale(0.76 1)" text-anchor="middle">FÓSFORO</text>
<text class="zn" transform="translate(1023.27 255) scale(0.89 1)">16</text>
<text class="ms" transform="translate(1079.77 251.7) scale(0.9 1)" text-anchor="end">32.065</text>
<text class="sy" transform="translate(1051.82 287.6) scale(0.94 1)" text-anchor="middle">S</text>
<text class="nm" transform="translate(1051.82 310.8) scale(0.76 1)" text-anchor="middle">AZUFRE</text>
<text class="zn" transform="translate(1085.41 255) scale(0.89 1)">17</text>
<text class="ms" transform="translate(1141.91 251.7) scale(0.9 1)" text-anchor="end">35.543</text>
<text class="sy" transform="translate(1113.96 287.6) scale(0.94 1)" text-anchor="middle">Cl</text>
<text class="nm" transform="translate(1113.96 310.8) scale(0.76 1)" text-anchor="middle">CLORO</text>
<text class="zn" transform="translate(1147.55 255) scale(0.89 1)">18</text>
<text class="ms" transform="translate(1204.05 251.7) scale(0.9 1)" text-anchor="end">39.948</text>
<text class="sy" transform="translate(1176.1 287.6) scale(0.94 1)" text-anchor="middle">Ar</text>
<text class="nm" transform="translate(1176.1 310.8) scale(0.76 1)" text-anchor="middle">ARGÓN</text>
<text class="zn" transform="translate(95.35 327.45) scale(0.89 1)">19</text>
<text class="ms" transform="translate(151.85 324.15) scale(0.9 1)" text-anchor="end">39.098</text>
<text class="sy" transform="translate(123.9 360.05) scale(0.94 1)" text-anchor="middle">K</text>
<text class="nm" transform="translate(123.9 383.25) scale(0.76 1)" text-anchor="middle">POTASIO</text>
<text class="zn" transform="translate(157.12 327.45) scale(0.89 1)">20</text>
<text class="ms" transform="translate(213.62 324.15) scale(0.9 1)" text-anchor="end">40.078</text>
<text class="sy" transform="translate(185.67 360.05) scale(0.94 1)" text-anchor="middle">Ca</text>
<text class="nm" transform="translate(185.67 383.25) scale(0.76 1)" text-anchor="middle">CALCIO</text>
<text class="zn" transform="translate(218.89 327.45) scale(0.89 1)">21</text>
<text class="ms" transform="translate(275.39 324.15) scale(0.9 1)" text-anchor="end">44.956</text>
<text class="sy" transform="translate(247.44 360.05) scale(0.94 1)" text-anchor="middle">Sc</text>
<text class="nm" transform="translate(247.44 383.25) scale(0.76 1)" text-anchor="middle">ESCANDIO</text>
<text class="zn" transform="translate(280.66 327.45) scale(0.89 1)">22</text>
<text class="ms" transform="translate(337.16 324.15) scale(0.9 1)" text-anchor="end">47.867</text>
<text class="sy" transform="translate(309.21 360.05) scale(0.94 1)" text-anchor="middle">Ti</text>
<text class="nm" transform="translate(309.21 383.25) scale(0.76 1)" text-anchor="middle">TITANIO</text>
<text class="zn" transform="translate(342.43 327.45) scale(0.89 1)">23</text>
<text class="ms" transform="translate(398.93 324.15) scale(0.9 1)" text-anchor="end">50.942</text>
<text class="sy" transform="translate(370.98 360.05) scale(0.94 1)" text-anchor="middle">V</text>
<text class="nm" transform="translate(370.98 383.25) scale(0.76 1)" text-anchor="middle">VANADIO</text>
<text class="zn" transform="translate(404.2 327.45) scale(0.89 1)">24</text>
<text class="ms" transform="translate(460.7 324.15) scale(0.9 1)" text-anchor="end">51.996</text>
<text class="sy" transform="translate(432.75 360.05) scale(0.94 1)" text-anchor="middle">Cr</text>
<text class="nm" transform="translate(432.75 383.25) scale(0.76 1)" text-anchor="middle">CROMO</text>
<text class="zn" transform="translate(465.97 327.45) scale(0.89 1)">25</text>
<text class="ms" transform="translate(522.47 324.15) scale(0.9 1)" text-anchor="end">54.938</text>
<text class="sy" transform="translate(494.52 360.05) scale(0.94 1)" text-anchor="middle">Mn</text>
<text class="nm" transform="translate(494.52 383.25) scale(0.76 1)" text-anchor="middle">MANGANESO</text>
<text class="zn" transform="translate(527.74 327.45) scale(0.89 1)">26</text>
<text class="ms" transform="translate(584.24 324.15) scale(0.9 1)" text-anchor="end">55.845</text>
<text class="sy" transform="translate(556.29 360.05) scale(0.94 1)" text-anchor="middle">Fe</text>
<text class="nm" transform="translate(556.29 383.25) scale(0.76 1)" text-anchor="middle">HIERRO</text>
<text class="zn" transform="translate(589.51 327.45) scale(0.89 1)">27</text>
<text class="ms" transform="translate(646.01 324.15) scale(0.9 1)" text-anchor="end">58.933</text>
<text class="sy" transform="translate(618.06 360.05) scale(0.94 1)" text-anchor="middle">Co</text>
<text class="nm" transform="translate(618.06 383.25) scale(0.76 1)" text-anchor="middle">COBALTO</text>
<text class="zn" transform="translate(651.28 327.45) scale(0.89 1)">28</text>
<text class="ms" transform="translate(707.78 324.15) scale(0.9 1)" text-anchor="end">58.693</text>
<text class="sy" transform="translate(679.83 360.05) scale(0.94 1)" text-anchor="middle">Ni</text>
<text class="nm" transform="translate(679.83 383.25) scale(0.76 1)" text-anchor="middle">NIQUEL</text>
<text class="zn" transform="translate(713.05 327.45) scale(0.89 1)">29</text>
<text class="ms" transform="translate(769.55 324.15) scale(0.9 1)" text-anchor="end">63.546</text>
<text class="sy" transform="translate(741.6 360.05) scale(0.94 1)" text-anchor="middle">Cu</text>
<text class="nm" transform="translate(741.6 383.25) scale(0.76 1)" text-anchor="middle">COBRE</text>
<text class="zn" transform="translate(774.82 327.45) scale(0.89 1)">30</text>
<text class="ms" transform="translate(831.32 324.15) scale(0.9 1)" text-anchor="end">65.38</text>
<text class="sy" transform="translate(803.37 360.05) scale(0.94 1)" text-anchor="middle">Zn</text>
<text class="nm" transform="translate(803.37 383.25) scale(0.76 1)" text-anchor="middle">ZINC</text>
<text class="zn" transform="translate(836.85 327.45) scale(0.89 1)">31</text>
<text class="ms" transform="translate(893.35 324.15) scale(0.9 1)" text-anchor="end">69.723</text>
<text class="sy" transform="translate(865.4 360.05) scale(0.94 1)" text-anchor="middle">Ga</text>
<text class="nm" transform="translate(865.4 383.25) scale(0.76 1)" text-anchor="middle">GALIO</text>
<text class="zn" transform="translate(898.99 327.45) scale(0.89 1)">32</text>
<text class="ms" transform="translate(955.49 324.15) scale(0.9 1)" text-anchor="end">72.64</text>
<text class="sy" transform="translate(927.54 360.05) scale(0.94 1)" text-anchor="middle">Ge</text>
<text class="nm" transform="translate(927.54 383.25) scale(0.76 1)" text-anchor="middle">GERMANIO</text>
<text class="zn" transform="translate(961.13 327.45) scale(0.89 1)">33</text>
<text class="ms" transform="translate(1017.63 324.15) scale(0.9 1)" text-anchor="end">74.922</text>
<text class="sy" transform="translate(989.68 360.05) scale(0.94 1)" text-anchor="middle">As</text>
<text class="nm" transform="translate(989.68 383.25) scale(0.76 1)" text-anchor="middle">ARSÉNICO</text>
<text class="zn" transform="translate(1023.27 327.45) scale(0.89 1)">34</text>
<text class="ms" transform="translate(1079.77 324.15) scale(0.9 1)" text-anchor="end">78.96</text>
<text class="sy" transform="translate(1051.82 360.05) scale(0.94 1)" text-anchor="middle">Se</text>
<text class="nm" transform="translate(1051.82 383.25) scale(0.76 1)" text-anchor="middle">SELENIO</text>
<text class="zn" transform="translate(1085.41 327.45) scale(0.89 1)">35</text>
<text class="ms" transform="translate(1141.91 324.15) scale(0.9 1)" text-anchor="end">79.904</text>
<text class="sy" transform="translate(1113.96 360.05) scale(0.94 1)" text-anchor="middle">Br</text>
<text class="nm" transform="translate(1113.96 383.25) scale(0.76 1)" text-anchor="middle">BROMO</text>
<text class="zn" transform="translate(1147.55 327.45) scale(0.89 1)">36</text>
<text class="ms" transform="translate(1204.05 324.15) scale(0.9 1)" text-anchor="end">83.798</text>
<text class="sy" transform="translate(1176.1 360.05) scale(0.94 1)" text-anchor="middle">Kr</text>
<text class="nm" transform="translate(1176.1 383.25) scale(0.76 1)" text-anchor="middle">KRIPTÓN</text>
<text class="zn" transform="translate(95.35 399.9) scale(0.89 1)">37</text>
<text class="ms" transform="translate(151.85 396.6) scale(0.9 1)" text-anchor="end">85.468</text>
<text class="sy" transform="translate(123.9 432.5) scale(0.94 1)" text-anchor="middle">Rb</text>
<text class="nm" transform="translate(123.9 455.7) scale(0.76 1)" text-anchor="middle">RUBIDIO</text>
<text class="zn" transform="translate(157.12 399.9) scale(0.89 1)">38</text>
<text class="ms" transform="translate(213.62 396.6) scale(0.9 1)" text-anchor="end">87.62</text>
<text class="sy" transform="translate(185.67 432.5) scale(0.94 1)" text-anchor="middle">Sr</text>
<text class="nm" transform="translate(185.67 455.7) scale(0.76 1)" text-anchor="middle">ESTRONCIO</text>
<text class="zn" transform="translate(218.89 399.9) scale(0.89 1)">39</text>
<text class="ms" transform="translate(275.39 396.6) scale(0.9 1)" text-anchor="end">88.906</text>
<text class="sy" transform="translate(247.44 432.5) scale(0.94 1)" text-anchor="middle">Y</text>
<text class="nm" transform="translate(247.44 455.7) scale(0.76 1)" text-anchor="middle">YTRIO</text>
<text class="zn" transform="translate(280.66 399.9) scale(0.89 1)">40</text>
<text class="ms" transform="translate(337.16 396.6) scale(0.9 1)" text-anchor="end">91.224</text>
<text class="sy" transform="translate(309.21 432.5) scale(0.94 1)" text-anchor="middle">Zr</text>
<text class="nm" transform="translate(309.21 455.7) scale(0.76 1)" text-anchor="middle">CIRCONIO</text>
<text class="zn" transform="translate(342.43 399.9) scale(0.89 1)">41</text>
<text class="ms" transform="translate(398.93 396.6) scale(0.9 1)" text-anchor="end">92.906</text>
<text class="sy" transform="translate(370.98 432.5) scale(0.94 1)" text-anchor="middle">Nb</text>
<text class="nm" transform="translate(370.98 455.7) scale(0.76 1)" text-anchor="middle">NIOBIO</text>
<text class="zn" transform="translate(404.2 399.9) scale(0.89 1)">42</text>
<text class="ms" transform="translate(460.7 396.6) scale(0.9 1)" text-anchor="end">95.96</text>
<text class="sy" transform="translate(432.75 432.5) scale(0.94 1)" text-anchor="middle">Mo</text>
<text class="nm" transform="translate(432.75 455.7) scale(0.76 1)" text-anchor="middle">MOLIBDENO</text>
<text class="zn" transform="translate(465.97 399.9) scale(0.89 1)">43</text>
<text class="ms" transform="translate(522.47 396.6) scale(0.9 1)" text-anchor="end">(98)</text>
<text class="sy" transform="translate(494.52 432.5) scale(0.94 1)" text-anchor="middle">Tc</text>
<text class="nm" transform="translate(494.52 455.7) scale(0.76 1)" text-anchor="middle">TECNECIO</text>
<text class="zn" transform="translate(527.74 399.9) scale(0.89 1)">44</text>
<text class="ms" transform="translate(584.24 396.6) scale(0.9 1)" text-anchor="end">101.07</text>
<text class="sy" transform="translate(556.29 432.5) scale(0.94 1)" text-anchor="middle">Ru</text>
<text class="nm" transform="translate(556.29 455.7) scale(0.76 1)" text-anchor="middle">RUTENIO</text>
<text class="zn" transform="translate(589.51 399.9) scale(0.89 1)">45</text>
<text class="ms" transform="translate(646.01 396.6) scale(0.9 1)" text-anchor="end">102.91</text>
<text class="sy" transform="translate(618.06 432.5) scale(0.94 1)" text-anchor="middle">Rh</text>
<text class="nm" transform="translate(618.06 455.7) scale(0.76 1)" text-anchor="middle">RODIO</text>
<text class="zn" transform="translate(651.28 399.9) scale(0.89 1)">46</text>
<text class="ms" transform="translate(707.78 396.6) scale(0.9 1)" text-anchor="end">106.42</text>
<text class="sy" transform="translate(679.83 432.5) scale(0.94 1)" text-anchor="middle">Pd</text>
<text class="nm" transform="translate(679.83 455.7) scale(0.76 1)" text-anchor="middle">PALADIO</text>
<text class="zn" transform="translate(713.05 399.9) scale(0.89 1)">47</text>
<text class="ms" transform="translate(769.55 396.6) scale(0.9 1)" text-anchor="end">107.87</text>
<text class="sy" transform="translate(741.6 432.5) scale(0.94 1)" text-anchor="middle">Ag</text>
<text class="nm" transform="translate(741.6 455.7) scale(0.76 1)" text-anchor="middle">PLATA</text>
<text class="zn" transform="translate(774.82 399.9) scale(0.89 1)">48</text>
<text class="ms" transform="translate(831.32 396.6) scale(0.9 1)" text-anchor="end">112.41</text>
<text class="sy" transform="translate(803.37 432.5) scale(0.94 1)" text-anchor="middle">Cd</text>
<text class="nm" transform="translate(803.37 455.7) scale(0.76 1)" text-anchor="middle">CADMIO</text>
<text class="zn" transform="translate(836.85 399.9) scale(0.89 1)">49</text>
<text class="ms" transform="translate(893.35 396.6) scale(0.9 1)" text-anchor="end">114.82</text>
<text class="sy" transform="translate(865.4 432.5) scale(0.94 1)" text-anchor="middle">In</text>
<text class="nm" transform="translate(865.4 455.7) scale(0.76 1)" text-anchor="middle">INDIO</text>
<text class="zn" transform="translate(898.99 399.9) scale(0.89 1)">50</text>
<text class="ms" transform="translate(955.49 396.6) scale(0.9 1)" text-anchor="end">118.71</text>
<text class="sy" transform="translate(927.54 432.5) scale(0.94 1)" text-anchor="middle">Sn</text>
<text class="nm" transform="translate(927.54 455.7) scale(0.76 1)" text-anchor="middle">ESTAÑO</text>
<text class="zn" transform="translate(961.13 399.9) scale(0.89 1)">51</text>
<text class="ms" transform="translate(1017.63 396.6) scale(0.9 1)" text-anchor="end">121.76</text>
<text class="sy" transform="translate(989.68 432.5) scale(0.94 1)" text-anchor="middle">Sb</text>
<text class="nm" transform="translate(989.68 455.7) scale(0.76 1)" text-anchor="middle">ANTIMONIO</text>
<text class="zn" transform="translate(1023.27 399.9) scale(0.89 1)">52</text>
<text class="ms" transform="translate(1079.77 396.6) scale(0.9 1)" text-anchor="end">127.60</text>
<text class="sy" transform="translate(1051.82 432.5) scale(0.94 1)" text-anchor="middle">Te</text>
<text class="nm" transform="translate(1051.82 455.7) scale(0.76 1)" text-anchor="middle">TELURO</text>
<text class="zn" transform="translate(1085.41 399.9) scale(0.89 1)">53</text>
<text class="ms" transform="translate(1141.91 396.6) scale(0.9 1)" text-anchor="end">126.90</text>
<text class="sy" transform="translate(1113.96 432.5) scale(0.94 1)" text-anchor="middle">I</text>
<text class="nm" transform="translate(1113.96 455.7) scale(0.76 1)" text-anchor="middle">YODO</text>
<text class="zn" transform="translate(1147.55 399.9) scale(0.89 1)">54</text>
<text class="ms" transform="translate(1204.05 396.6) scale(0.9 1)" text-anchor="end">131.29</text>
<text class="sy" transform="translate(1176.1 432.5) scale(0.94 1)" text-anchor="middle">Xe</text>
<text class="nm" transform="translate(1176.1 455.7) scale(0.76 1)" text-anchor="middle">XENÓN</text>
<text class="zn" transform="translate(95.35 472.35) scale(0.89 1)">55</text>
<text class="ms" transform="translate(151.85 469.05) scale(0.9 1)" text-anchor="end">132.91</text>
<text class="sy" transform="translate(123.9 504.95) scale(0.94 1)" text-anchor="middle">Cs</text>
<text class="nm" transform="translate(123.9 528.15) scale(0.76 1)" text-anchor="middle">CESIO</text>
<text class="zn" transform="translate(157.12 472.35) scale(0.89 1)">56</text>
<text class="ms" transform="translate(213.62 469.05) scale(0.9 1)" text-anchor="end">137.33</text>
<text class="sy" transform="translate(185.67 504.95) scale(0.94 1)" text-anchor="middle">Ba</text>
<text class="nm" transform="translate(185.67 528.15) scale(0.76 1)" text-anchor="middle">BARIO</text>
<text class="zn" transform="translate(280.66 472.35) scale(0.89 1)">72</text>
<text class="ms" transform="translate(337.16 469.05) scale(0.9 1)" text-anchor="end">178.49</text>
<text class="sy" transform="translate(309.21 504.95) scale(0.94 1)" text-anchor="middle">Hf</text>
<text class="nm" transform="translate(309.21 528.15) scale(0.76 1)" text-anchor="middle">HAFNIO</text>
<text class="zn" transform="translate(342.43 472.35) scale(0.89 1)">73</text>
<text class="ms" transform="translate(398.93 469.05) scale(0.9 1)" text-anchor="end">180.95</text>
<text class="sy" transform="translate(370.98 504.95) scale(0.94 1)" text-anchor="middle">Ta</text>
<text class="nm" transform="translate(370.98 528.15) scale(0.76 1)" text-anchor="middle">TÁNTALO</text>
<text class="zn" transform="translate(404.2 472.35) scale(0.89 1)">74</text>
<text class="ms" transform="translate(460.7 469.05) scale(0.9 1)" text-anchor="end">183.84</text>
<text class="sy" transform="translate(432.75 504.95) scale(0.94 1)" text-anchor="middle">W</text>
<text class="nm" transform="translate(432.75 528.15) scale(0.76 1)" text-anchor="middle">WOLFRAMIO</text>
<text class="zn" transform="translate(465.97 472.35) scale(0.89 1)">75</text>
<text class="ms" transform="translate(522.47 469.05) scale(0.9 1)" text-anchor="end">186.21</text>
<text class="sy" transform="translate(494.52 504.95) scale(0.94 1)" text-anchor="middle">Re</text>
<text class="nm" transform="translate(494.52 528.15) scale(0.76 1)" text-anchor="middle">RENIO</text>
<text class="zn" transform="translate(527.74 472.35) scale(0.89 1)">76</text>
<text class="ms" transform="translate(584.24 469.05) scale(0.9 1)" text-anchor="end">190.23</text>
<text class="sy" transform="translate(556.29 504.95) scale(0.94 1)" text-anchor="middle">Os</text>
<text class="nm" transform="translate(556.29 528.15) scale(0.76 1)" text-anchor="middle">OSMIO</text>
<text class="zn" transform="translate(589.51 472.35) scale(0.89 1)">77</text>
<text class="ms" transform="translate(646.01 469.05) scale(0.9 1)" text-anchor="end">192.22</text>
<text class="sy" transform="translate(618.06 504.95) scale(0.94 1)" text-anchor="middle">Ir</text>
<text class="nm" transform="translate(618.06 528.15) scale(0.76 1)" text-anchor="middle">IRIDIO</text>
<text class="zn" transform="translate(651.28 472.35) scale(0.89 1)">78</text>
<text class="ms" transform="translate(707.78 469.05) scale(0.9 1)" text-anchor="end">195.08</text>
<text class="sy" transform="translate(679.83 504.95) scale(0.94 1)" text-anchor="middle">Pt</text>
<text class="nm" transform="translate(679.83 528.15) scale(0.76 1)" text-anchor="middle">PLATINO</text>
<text class="zn" transform="translate(713.05 472.35) scale(0.89 1)">79</text>
<text class="ms" transform="translate(769.55 469.05) scale(0.9 1)" text-anchor="end">196.97</text>
<text class="sy" transform="translate(741.6 504.95) scale(0.94 1)" text-anchor="middle">Au</text>
<text class="nm" transform="translate(741.6 528.15) scale(0.76 1)" text-anchor="middle">ORO</text>
<text class="zn" transform="translate(774.82 472.35) scale(0.89 1)">80</text>
<text class="ms" transform="translate(831.32 469.05) scale(0.9 1)" text-anchor="end">200.59</text>
<text class="sy" transform="translate(803.37 504.95) scale(0.94 1)" text-anchor="middle">Hg</text>
<text class="nm" transform="translate(803.37 528.15) scale(0.76 1)" text-anchor="middle">MERCURIO</text>
<text class="zn" transform="translate(836.85 472.35) scale(0.89 1)">81</text>
<text class="ms" transform="translate(893.35 469.05) scale(0.9 1)" text-anchor="end">204.38</text>
<text class="sy" transform="translate(865.4 504.95) scale(0.94 1)" text-anchor="middle">Tl</text>
<text class="nm" transform="translate(865.4 528.15) scale(0.76 1)" text-anchor="middle">TALIO</text>
<text class="zn" transform="translate(898.99 472.35) scale(0.89 1)">82</text>
<text class="ms" transform="translate(955.49 469.05) scale(0.9 1)" text-anchor="end">207.20</text>
<text class="sy" transform="translate(927.54 504.95) scale(0.94 1)" text-anchor="middle">Pb</text>
<text class="nm" transform="translate(927.54 528.15) scale(0.76 1)" text-anchor="middle">PLOMO</text>
<text class="zn" transform="translate(961.13 472.35) scale(0.89 1)">83</text>
<text class="ms" transform="translate(1017.63 469.05) scale(0.9 1)" text-anchor="end">208.98</text>
<text class="sy" transform="translate(989.68 504.95) scale(0.94 1)" text-anchor="middle">Bi</text>
<text class="nm" transform="translate(989.68 528.15) scale(0.76 1)" text-anchor="middle">BISMUTO</text>
<text class="zn" transform="translate(1023.27 472.35) scale(0.89 1)">84</text>
<text class="ms" transform="translate(1079.77 469.05) scale(0.9 1)" text-anchor="end">(209)</text>
<text class="sy" transform="translate(1051.82 504.95) scale(0.94 1)" text-anchor="middle">Po</text>
<text class="nm" transform="translate(1051.82 528.15) scale(0.76 1)" text-anchor="middle">POLONIO</text>
<text class="zn" transform="translate(1085.41 472.35) scale(0.89 1)">85</text>
<text class="ms" transform="translate(1141.91 469.05) scale(0.9 1)" text-anchor="end">(210)</text>
<text class="sy" transform="translate(1113.96 504.95) scale(0.94 1)" text-anchor="middle">At</text>
<text class="nm" transform="translate(1113.96 528.15) scale(0.76 1)" text-anchor="middle">ASTATO</text>
<text class="zn" transform="translate(1147.55 472.35) scale(0.89 1)">86</text>
<text class="ms" transform="translate(1204.05 469.05) scale(0.9 1)" text-anchor="end">(222)</text>
<text class="sy" transform="translate(1176.1 504.95) scale(0.94 1)" text-anchor="middle">Rn</text>
<text class="nm" transform="translate(1176.1 528.15) scale(0.76 1)" text-anchor="middle">RADÓN</text>
<text class="zn" transform="translate(95.35 544.8) scale(0.89 1)">87</text>
<text class="ms" transform="translate(151.85 541.5) scale(0.9 1)" text-anchor="end">(223)</text>
<text class="sy" transform="translate(123.9 577.4) scale(0.94 1)" text-anchor="middle">Fr</text>
<text class="nm" transform="translate(123.9 600.6) scale(0.76 1)" text-anchor="middle">FRANCIO</text>
<text class="zn" transform="translate(157.12 544.8) scale(0.89 1)">88</text>
<text class="ms" transform="translate(213.62 541.5) scale(0.9 1)" text-anchor="end">(226)</text>
<text class="sy" transform="translate(185.67 577.4) scale(0.94 1)" text-anchor="middle">Ra</text>
<text class="nm" transform="translate(185.67 600.6) scale(0.76 1)" text-anchor="middle">RADIO</text>
<text class="zn" transform="translate(280.66 544.8) scale(0.65 1)">104</text>
<text class="ms" transform="translate(337.16 541.5) scale(0.9 1)" text-anchor="end">(267)</text>
<text class="sy" transform="translate(309.21 577.4) scale(0.94 1)" text-anchor="middle">Rf</text>
<text class="nm" transform="translate(309.21 600.6) scale(0.76 1)" text-anchor="middle">RUTHERFORDIO</text>
<text class="zn" transform="translate(342.43 544.8) scale(0.65 1)">105</text>
<text class="ms" transform="translate(398.93 541.5) scale(0.9 1)" text-anchor="end">(268)</text>
<text class="sy" transform="translate(370.98 577.4) scale(0.94 1)" text-anchor="middle">Db</text>
<text class="nm" transform="translate(370.98 600.6) scale(0.76 1)" text-anchor="middle">DUBNIO</text>
<text class="zn" transform="translate(404.2 544.8) scale(0.65 1)">106</text>
<text class="ms" transform="translate(460.7 541.5) scale(0.9 1)" text-anchor="end">(271)</text>
<text class="sy" transform="translate(432.75 577.4) scale(0.94 1)" text-anchor="middle">Sg</text>
<text class="nm" transform="translate(432.75 600.6) scale(0.76 1)" text-anchor="middle">SEABORGIO</text>
<text class="zn" transform="translate(465.97 544.8) scale(0.65 1)">107</text>
<text class="ms" transform="translate(522.47 541.5) scale(0.9 1)" text-anchor="end">(272)</text>
<text class="sy" transform="translate(494.52 577.4) scale(0.94 1)" text-anchor="middle">Bh</text>
<text class="nm" transform="translate(494.52 600.6) scale(0.76 1)" text-anchor="middle">BOHRIO</text>
<text class="zn" transform="translate(527.74 544.8) scale(0.65 1)">108</text>
<text class="ms" transform="translate(584.24 541.5) scale(0.9 1)" text-anchor="end">(277)</text>
<text class="sy" transform="translate(556.29 577.4) scale(0.94 1)" text-anchor="middle">Hs</text>
<text class="nm" transform="translate(556.29 600.6) scale(0.76 1)" text-anchor="middle">HASSIO</text>
<text class="zn" transform="translate(589.51 544.8) scale(0.65 1)">109</text>
<text class="ms" transform="translate(646.01 541.5) scale(0.9 1)" text-anchor="end">(276)</text>
<text class="sy" transform="translate(618.06 577.4) scale(0.94 1)" text-anchor="middle">Mt</text>
<text class="nm" transform="translate(618.06 600.6) scale(0.76 1)" text-anchor="middle">MEITNERIO</text>
<text class="zn" transform="translate(651.28 544.8) scale(0.65 1)">110</text>
<text class="ms" transform="translate(707.78 541.5) scale(0.9 1)" text-anchor="end">(281)</text>
<text class="sy" transform="translate(679.83 577.4) scale(0.94 1)" text-anchor="middle">Ds</text>
<text class="nm" transform="translate(679.83 600.6) scale(0.76 1)" text-anchor="middle">DARMSTADTIO</text>
<text class="zn" transform="translate(713.05 544.8) scale(0.65 1)">111</text>
<text class="ms" transform="translate(769.55 541.5) scale(0.9 1)" text-anchor="end">(280)</text>
<text class="sy" transform="translate(741.6 577.4) scale(0.94 1)" text-anchor="middle">Rg</text>
<text class="nm" transform="translate(741.6 600.6) scale(0.76 1)" text-anchor="middle">ROENTGENIO</text>
<text class="zn" transform="translate(774.82 544.8) scale(0.65 1)">112</text>
<text class="ms" transform="translate(831.32 541.5) scale(0.9 1)" text-anchor="end">(285)</text>
<text class="sy" transform="translate(803.37 577.4) scale(0.94 1)" text-anchor="middle">Cn</text>
<text class="nm" transform="translate(803.37 600.6) scale(0.76 1)" text-anchor="middle">COPERNICIO</text>
<text class="zn" transform="translate(836.85 544.8) scale(0.65 1)">113</text>
<text class="ms" transform="translate(893.35 541.5) scale(0.9 1)" text-anchor="end">(284)</text>
<text class="sy" transform="translate(865.4 577.4) scale(0.94 1)" text-anchor="middle">Nh</text>
<text class="nm" transform="translate(865.4 600.6) scale(0.76 1)" text-anchor="middle">NIHONIO</text>
<text class="zn" transform="translate(898.99 544.8) scale(0.65 1)">114</text>
<text class="ms" transform="translate(955.49 541.5) scale(0.9 1)" text-anchor="end">(289)</text>
<text class="sy" transform="translate(927.54 577.4) scale(0.94 1)" text-anchor="middle">Fl</text>
<text class="nm" transform="translate(927.54 600.6) scale(0.76 1)" text-anchor="middle">FLEROVIO</text>
<text class="zn" transform="translate(961.13 544.8) scale(0.65 1)">115</text>
<text class="ms" transform="translate(1017.63 541.5) scale(0.9 1)" text-anchor="end">(288)</text>
<text class="sy" transform="translate(989.68 577.4) scale(0.94 1)" text-anchor="middle">Mc</text>
<text class="nm" transform="translate(989.68 600.6) scale(0.76 1)" text-anchor="middle">MOSCOVIO</text>
<text class="zn" transform="translate(1023.27 544.8) scale(0.65 1)">116</text>
<text class="ms" transform="translate(1079.77 541.5) scale(0.9 1)" text-anchor="end">(292)</text>
<text class="sy" transform="translate(1051.82 577.4) scale(0.94 1)" text-anchor="middle">Lv</text>
<text class="nm" transform="translate(1051.82 600.6) scale(0.76 1)" text-anchor="middle">LIVERMORIO</text>
<text class="zn" transform="translate(1085.41 544.8) scale(0.65 1)">117</text>
<text class="ms" transform="translate(1141.91 541.5) scale(0.9 1)" text-anchor="end">(294)</text>
<text class="sy" transform="translate(1113.96 577.4) scale(0.94 1)" text-anchor="middle">Ts</text>
<text class="nm" transform="translate(1113.96 600.6) scale(0.76 1)" text-anchor="middle">TENESO</text>
<text class="zn" transform="translate(1147.55 544.8) scale(0.65 1)">118</text>
<text class="ms" transform="translate(1204.05 541.5) scale(0.9 1)" text-anchor="end">(294)</text>
<text class="sy" transform="translate(1176.1 577.4) scale(0.94 1)" text-anchor="middle">Og</text>
<text class="nm" transform="translate(1176.1 600.6) scale(0.76 1)" text-anchor="middle">OGANESÓN</text>
<text class="zn" transform="translate(280.66 634.7) scale(0.89 1)">57</text>
<text class="ms" transform="translate(337.16 631.4) scale(0.9 1)" text-anchor="end">138.91</text>
<text class="sy" transform="translate(309.21 667.3) scale(0.94 1)" text-anchor="middle">La</text>
<text class="nm" transform="translate(309.21 690.5) scale(0.76 1)" text-anchor="middle">LANTANO</text>
<text class="zn" transform="translate(342.43 634.7) scale(0.89 1)">58</text>
<text class="ms" transform="translate(398.93 631.4) scale(0.9 1)" text-anchor="end">140.12</text>
<text class="sy" transform="translate(370.98 667.3) scale(0.94 1)" text-anchor="middle">Ce</text>
<text class="nm" transform="translate(370.98 690.5) scale(0.76 1)" text-anchor="middle">CERIO</text>
<text class="zn" transform="translate(404.2 634.7) scale(0.89 1)">59</text>
<text class="ms" transform="translate(460.7 631.4) scale(0.9 1)" text-anchor="end">140.91</text>
<text class="sy" transform="translate(432.75 667.3) scale(0.94 1)" text-anchor="middle">Pr</text>
<text class="nm" transform="translate(432.75 690.5) scale(0.76 1)" text-anchor="middle">PRASEODIMIO</text>
<text class="zn" transform="translate(465.97 634.7) scale(0.89 1)">60</text>
<text class="ms" transform="translate(522.47 631.4) scale(0.9 1)" text-anchor="end">144.24</text>
<text class="sy" transform="translate(494.52 667.3) scale(0.94 1)" text-anchor="middle">Nd</text>
<text class="nm" transform="translate(494.52 690.5) scale(0.76 1)" text-anchor="middle">NEODIMIO</text>
<text class="zn" transform="translate(527.74 634.7) scale(0.89 1)">61</text>
<text class="ms" transform="translate(584.24 631.4) scale(0.9 1)" text-anchor="end">(145)</text>
<text class="sy" transform="translate(556.29 667.3) scale(0.94 1)" text-anchor="middle">Pm</text>
<text class="nm" transform="translate(556.29 690.5) scale(0.76 1)" text-anchor="middle">PROMETIO</text>
<text class="zn" transform="translate(589.51 634.7) scale(0.89 1)">62</text>
<text class="ms" transform="translate(646.01 631.4) scale(0.9 1)" text-anchor="end">150.36</text>
<text class="sy" transform="translate(618.06 667.3) scale(0.94 1)" text-anchor="middle">Sm</text>
<text class="nm" transform="translate(618.06 690.5) scale(0.76 1)" text-anchor="middle">SAMARIO</text>
<text class="zn" transform="translate(651.28 634.7) scale(0.89 1)">63</text>
<text class="ms" transform="translate(707.78 631.4) scale(0.9 1)" text-anchor="end">151.96</text>
<text class="sy" transform="translate(679.83 667.3) scale(0.94 1)" text-anchor="middle">Eu</text>
<text class="nm" transform="translate(679.83 690.5) scale(0.76 1)" text-anchor="middle">EUROPIO</text>
<text class="zn" transform="translate(713.05 634.7) scale(0.89 1)">64</text>
<text class="ms" transform="translate(769.55 631.4) scale(0.9 1)" text-anchor="end">157.25</text>
<text class="sy" transform="translate(741.6 667.3) scale(0.94 1)" text-anchor="middle">Gd</text>
<text class="nm" transform="translate(741.6 690.5) scale(0.76 1)" text-anchor="middle">GADOLINIO</text>
<text class="zn" transform="translate(774.82 634.7) scale(0.89 1)">65</text>
<text class="ms" transform="translate(831.32 631.4) scale(0.9 1)" text-anchor="end">158.93</text>
<text class="sy" transform="translate(803.37 667.3) scale(0.94 1)" text-anchor="middle">Tb</text>
<text class="nm" transform="translate(803.37 690.5) scale(0.76 1)" text-anchor="middle">TERBIO</text>
<text class="zn" transform="translate(836.85 634.7) scale(0.89 1)">66</text>
<text class="ms" transform="translate(893.35 631.4) scale(0.9 1)" text-anchor="end">162.50</text>
<text class="sy" transform="translate(865.4 667.3) scale(0.94 1)" text-anchor="middle">Dy</text>
<text class="nm" transform="translate(865.4 690.5) scale(0.76 1)" text-anchor="middle">DISPROSIO</text>
<text class="zn" transform="translate(898.99 634.7) scale(0.89 1)">67</text>
<text class="ms" transform="translate(955.49 631.4) scale(0.9 1)" text-anchor="end">164.93</text>
<text class="sy" transform="translate(927.54 667.3) scale(0.94 1)" text-anchor="middle">Ho</text>
<text class="nm" transform="translate(927.54 690.5) scale(0.76 1)" text-anchor="middle">HOLMIO</text>
<text class="zn" transform="translate(961.13 634.7) scale(0.89 1)">68</text>
<text class="ms" transform="translate(1017.63 631.4) scale(0.9 1)" text-anchor="end">167.26</text>
<text class="sy" transform="translate(989.68 667.3) scale(0.94 1)" text-anchor="middle">Er</text>
<text class="nm" transform="translate(989.68 690.5) scale(0.76 1)" text-anchor="middle">ERBIO</text>
<text class="zn" transform="translate(1023.27 634.7) scale(0.89 1)">69</text>
<text class="ms" transform="translate(1079.77 631.4) scale(0.9 1)" text-anchor="end">168.93</text>
<text class="sy" transform="translate(1051.82 667.3) scale(0.94 1)" text-anchor="middle">Tm</text>
<text class="nm" transform="translate(1051.82 690.5) scale(0.76 1)" text-anchor="middle">TULIO</text>
<text class="zn" transform="translate(1085.41 634.7) scale(0.89 1)">70</text>
<text class="ms" transform="translate(1141.91 631.4) scale(0.9 1)" text-anchor="end">173.05</text>
<text class="sy" transform="translate(1113.96 667.3) scale(0.94 1)" text-anchor="middle">Yb</text>
<text class="nm" transform="translate(1113.96 690.5) scale(0.76 1)" text-anchor="middle">YTERBIO</text>
<text class="zn" transform="translate(1147.55 634.7) scale(0.89 1)">71</text>
<text class="ms" transform="translate(1204.05 631.4) scale(0.9 1)" text-anchor="end">174.97</text>
<text class="sy" transform="translate(1176.1 667.3) scale(0.94 1)" text-anchor="middle">Lu</text>
<text class="nm" transform="translate(1176.1 690.5) scale(0.76 1)" text-anchor="middle">LUTECIO</text>
<text class="zn" transform="translate(280.66 707.2) scale(0.89 1)">89</text>
<text class="ms" transform="translate(337.16 703.9) scale(0.9 1)" text-anchor="end">(227)</text>
<text class="sy" transform="translate(309.21 739.8) scale(0.94 1)" text-anchor="middle">Ac</text>
<text class="nm" transform="translate(309.21 763) scale(0.76 1)" text-anchor="middle">ACTINIO</text>
<text class="zn" transform="translate(342.43 707.2) scale(0.89 1)">90</text>
<text class="ms" transform="translate(398.93 703.9) scale(0.9 1)" text-anchor="end">232.04</text>
<text class="sy" transform="translate(370.98 739.8) scale(0.94 1)" text-anchor="middle">Th</text>
<text class="nm" transform="translate(370.98 763) scale(0.76 1)" text-anchor="middle">TORIO</text>
<text class="zn" transform="translate(404.2 707.2) scale(0.89 1)">91</text>
<text class="ms" transform="translate(460.7 703.9) scale(0.9 1)" text-anchor="end">231.04</text>
<text class="sy" transform="translate(432.75 739.8) scale(0.94 1)" text-anchor="middle">Pa</text>
<text class="nm" transform="translate(432.75 763) scale(0.76 1)" text-anchor="middle">PROTACTINIO</text>
<text class="zn" transform="translate(465.97 707.2) scale(0.89 1)">92</text>
<text class="ms" transform="translate(522.47 703.9) scale(0.9 1)" text-anchor="end">238.03</text>
<text class="sy" transform="translate(494.52 739.8) scale(0.94 1)" text-anchor="middle">U</text>
<text class="nm" transform="translate(494.52 763) scale(0.76 1)" text-anchor="middle">URANIO</text>
<text class="zn" transform="translate(527.74 707.2) scale(0.89 1)">93</text>
<text class="ms" transform="translate(584.24 703.9) scale(0.9 1)" text-anchor="end">(237)</text>
<text class="sy" transform="translate(556.29 739.8) scale(0.94 1)" text-anchor="middle">Np</text>
<text class="nm" transform="translate(556.29 763) scale(0.76 1)" text-anchor="middle">NEPTUNIO</text>
<text class="zn" transform="translate(589.51 707.2) scale(0.89 1)">94</text>
<text class="ms" transform="translate(646.01 703.9) scale(0.9 1)" text-anchor="end">(244)</text>
<text class="sy" transform="translate(618.06 739.8) scale(0.94 1)" text-anchor="middle">Pu</text>
<text class="nm" transform="translate(618.06 763) scale(0.76 1)" text-anchor="middle">PLUTONIO</text>
<text class="zn" transform="translate(651.28 707.2) scale(0.89 1)">95</text>
<text class="ms" transform="translate(707.78 703.9) scale(0.9 1)" text-anchor="end">(243)</text>
<text class="sy" transform="translate(679.83 739.8) scale(0.94 1)" text-anchor="middle">Am</text>
<text class="nm" transform="translate(679.83 763) scale(0.76 1)" text-anchor="middle">AMERICIO</text>
<text class="zn" transform="translate(713.05 707.2) scale(0.89 1)">96</text>
<text class="ms" transform="translate(769.55 703.9) scale(0.9 1)" text-anchor="end">(247)</text>
<text class="sy" transform="translate(741.6 739.8) scale(0.94 1)" text-anchor="middle">Cm</text>
<text class="nm" transform="translate(741.6 763) scale(0.76 1)" text-anchor="middle">CURIO</text>
<text class="zn" transform="translate(774.82 707.2) scale(0.89 1)">97</text>
<text class="ms" transform="translate(831.32 703.9) scale(0.9 1)" text-anchor="end">(247)</text>
<text class="sy" transform="translate(803.37 739.8) scale(0.94 1)" text-anchor="middle">Bk</text>
<text class="nm" transform="translate(803.37 763) scale(0.76 1)" text-anchor="middle">BERKELIO</text>
<text class="zn" transform="translate(836.85 707.2) scale(0.89 1)">98</text>
<text class="ms" transform="translate(893.35 703.9) scale(0.9 1)" text-anchor="end">(251)</text>
<text class="sy" transform="translate(865.4 739.8) scale(0.94 1)" text-anchor="middle">Cf</text>
<text class="nm" transform="translate(865.4 763) scale(0.76 1)" text-anchor="middle">CALIFORNIO</text>
<text class="zn" transform="translate(898.99 707.2) scale(0.89 1)">99</text>
<text class="ms" transform="translate(955.49 703.9) scale(0.9 1)" text-anchor="end">(252)</text>
<text class="sy" transform="translate(927.54 739.8) scale(0.94 1)" text-anchor="middle">Es</text>
<text class="nm" transform="translate(927.54 763) scale(0.76 1)" text-anchor="middle">EINSTEINIO</text>
<text class="zn" transform="translate(961.13 707.2) scale(0.65 1)">100</text>
<text class="ms" transform="translate(1017.63 703.9) scale(0.9 1)" text-anchor="end">(257)</text>
<text class="sy" transform="translate(989.68 739.8) scale(0.94 1)" text-anchor="middle">Fm</text>
<text class="nm" transform="translate(989.68 763) scale(0.76 1)" text-anchor="middle">FERMIO</text>
<text class="zn" transform="translate(1023.27 707.2) scale(0.65 1)">101</text>
<text class="ms" transform="translate(1079.77 703.9) scale(0.9 1)" text-anchor="end">(258)</text>
<text class="sy" transform="translate(1051.82 739.8) scale(0.94 1)" text-anchor="middle">Md</text>
<text class="nm" transform="translate(1051.82 763) scale(0.76 1)" text-anchor="middle">MENDELEVIO</text>
<text class="zn" transform="translate(1085.41 707.2) scale(0.65 1)">102</text>
<text class="ms" transform="translate(1141.91 703.9) scale(0.9 1)" text-anchor="end">(259)</text>
<text class="sy" transform="translate(1113.96 739.8) scale(0.94 1)" text-anchor="middle">No</text>
<text class="nm" transform="translate(1113.96 763) scale(0.76 1)" text-anchor="middle">NOBELIO</text>
<text class="zn" transform="translate(1147.55 707.2) scale(0.65 1)">103</text>
<text class="ms" transform="translate(1204.05 703.9) scale(0.9 1)" text-anchor="end">(262)</text>
<text class="sy" transform="translate(1176.1 739.8) scale(0.94 1)" text-anchor="middle">Lr</text>
<text class="nm" transform="translate(1176.1 763) scale(0.76 1)" text-anchor="middle">LAWRENCIO</text>
</g>
<text class="rg" transform="translate(220.3 476.25) scale(0.86 1)">57 - 71</text>
<text class="ll" transform="translate(220.5 505.75) scale(0.82 1)" fill="#4ebfa9" stroke="#4ebfa9">La-Lu</text>
<text class="nm2" transform="translate(247.44 527.45) scale(0.84 1)" text-anchor="middle">Lantánidos</text>
<text class="rg" transform="translate(220.3 548.3) scale(0.89 1)">89 - 103</text>
<text class="ll" transform="translate(221.5 578.1) scale(0.82 1)" fill="#5dbb7b" stroke="#5dbb7b">Ac-Lr</text>
<text class="nm2" transform="translate(247.44 599.8) scale(0.84 1)" text-anchor="middle">Actínidos</text>
<g id="groups">
<text class="gl" transform="translate(123.9 64.7) scale(0.8 1)" text-anchor="middle">1</text>
<text class="gl" transform="translate(123.9 79.7) scale(0.79 1)" text-anchor="middle">I A</text>
<polygon fill="#cfcfcf" points="120.8,84.3 127,84.3 123.9,90.3"/>
<text class="gl" transform="translate(185.67 137.15) scale(0.8 1)" text-anchor="middle">2</text>
<text class="gl" transform="translate(185.67 152.15) scale(0.79 1)" text-anchor="middle">II A</text>
<polygon fill="#cfcfcf" points="182.57,156.75 188.77,156.75 185.67,162.75"/>
<text class="gl" transform="translate(247.44 282.05) scale(0.8 1)" text-anchor="middle">3</text>
<text class="gl" transform="translate(247.44 297.05) scale(0.79 1)" text-anchor="middle">III B</text>
<polygon fill="#cfcfcf" points="244.34,301.65 250.54,301.65 247.44,307.65"/>
<text class="gl" transform="translate(309.21 282.05) scale(0.8 1)" text-anchor="middle">4</text>
<text class="gl" transform="translate(309.21 297.05) scale(0.79 1)" text-anchor="middle">IV B</text>
<polygon fill="#cfcfcf" points="306.11,301.65 312.31,301.65 309.21,307.65"/>
<text class="gl" transform="translate(370.98 282.05) scale(0.8 1)" text-anchor="middle">5</text>
<text class="gl" transform="translate(370.98 297.05) scale(0.79 1)" text-anchor="middle">V B</text>
<polygon fill="#cfcfcf" points="367.88,301.65 374.08,301.65 370.98,307.65"/>
<text class="gl" transform="translate(432.75 282.05) scale(0.8 1)" text-anchor="middle">6</text>
<text class="gl" transform="translate(432.75 297.05) scale(0.79 1)" text-anchor="middle">VI B</text>
<polygon fill="#cfcfcf" points="429.65,301.65 435.85,301.65 432.75,307.65"/>
<text class="gl" transform="translate(494.52 282.05) scale(0.8 1)" text-anchor="middle">7</text>
<text class="gl" transform="translate(494.52 297.05) scale(0.79 1)" text-anchor="middle">VII B</text>
<polygon fill="#cfcfcf" points="491.42,301.65 497.62,301.65 494.52,307.65"/>
<text class="gl" transform="translate(556.29 282.05) scale(0.8 1)" text-anchor="middle">8</text>
<text class="gl" transform="translate(556.29 297.05) scale(0.79 1)" text-anchor="middle">VIII B</text>
<polygon fill="#cfcfcf" points="553.19,301.65 559.39,301.65 556.29,307.65"/>
<text class="gl" transform="translate(618.06 282.05) scale(0.8 1)" text-anchor="middle">9</text>
<text class="gl" transform="translate(618.06 297.05) scale(0.79 1)" text-anchor="middle">VIII B</text>
<polygon fill="#cfcfcf" points="614.96,301.65 621.16,301.65 618.06,307.65"/>
<text class="gl" transform="translate(679.83 282.05) scale(0.8 1)" text-anchor="middle">10</text>
<text class="gl" transform="translate(679.83 297.05) scale(0.79 1)" text-anchor="middle">VIII B</text>
<polygon fill="#cfcfcf" points="676.73,301.65 682.93,301.65 679.83,307.65"/>
<text class="gl" transform="translate(741.6 282.05) scale(0.8 1)" text-anchor="middle">11</text>
<text class="gl" transform="translate(741.6 297.05) scale(0.79 1)" text-anchor="middle">I B</text>
<polygon fill="#cfcfcf" points="738.5,301.65 744.7,301.65 741.6,307.65"/>
<text class="gl" transform="translate(803.37 282.05) scale(0.8 1)" text-anchor="middle">12</text>
<text class="gl" transform="translate(803.37 297.05) scale(0.79 1)" text-anchor="middle">II B</text>
<polygon fill="#cfcfcf" points="800.27,301.65 806.47,301.65 803.37,307.65"/>
<text class="gl" transform="translate(865.4 137.15) scale(0.8 1)" text-anchor="middle">13</text>
<text class="gl" transform="translate(865.4 152.15) scale(0.79 1)" text-anchor="middle">III A</text>
<polygon fill="#cfcfcf" points="862.3,156.75 868.5,156.75 865.4,162.75"/>
<text class="gl" transform="translate(927.54 137.15) scale(0.8 1)" text-anchor="middle">14</text>
<text class="gl" transform="translate(927.54 152.15) scale(0.79 1)" text-anchor="middle">IV A</text>
<polygon fill="#cfcfcf" points="924.44,156.75 930.64,156.75 927.54,162.75"/>
<text class="gl" transform="translate(989.68 137.15) scale(0.8 1)" text-anchor="middle">15</text>
<text class="gl" transform="translate(989.68 152.15) scale(0.79 1)" text-anchor="middle">V A</text>
<polygon fill="#cfcfcf" points="986.58,156.75 992.78,156.75 989.68,162.75"/>
<text class="gl" transform="translate(1051.82 137.15) scale(0.8 1)" text-anchor="middle">16</text>
<text class="gl" transform="translate(1051.82 152.15) scale(0.79 1)" text-anchor="middle">VI A</text>
<polygon fill="#cfcfcf" points="1048.72,156.75 1054.92,156.75 1051.82,162.75"/>
<text class="gl" transform="translate(1113.96 137.15) scale(0.8 1)" text-anchor="middle">17</text>
<text class="gl" transform="translate(1113.96 152.15) scale(0.79 1)" text-anchor="middle">VII A</text>
<polygon fill="#cfcfcf" points="1110.86,156.75 1117.06,156.75 1113.96,162.75"/>
<text class="gl" transform="translate(1176.1 64.7) scale(0.8 1)" text-anchor="middle">18</text>
<text class="gl" transform="translate(1176.1 79.7) scale(0.79 1)" text-anchor="middle">VIII A</text>
<polygon fill="#cfcfcf" points="1173,84.3 1179.2,84.3 1176.1,90.3"/>
</g>
<g id="periods">
<text class="pl" transform="translate(71.6 139.2) scale(0.8 1)" text-anchor="middle">1</text>
<polygon fill="#cfcfcf" points="79.8,131.2 79.8,136.4 87.2,133.8"/>
<text class="pl" transform="translate(71.6 211.65) scale(0.8 1)" text-anchor="middle">2</text>
<polygon fill="#cfcfcf" points="79.8,203.65 79.8,208.85 87.2,206.25"/>
<text class="pl" transform="translate(71.6 284.1) scale(0.8 1)" text-anchor="middle">3</text>
<polygon fill="#cfcfcf" points="79.8,276.1 79.8,281.3 87.2,278.7"/>
<text class="pl" transform="translate(71.6 356.55) scale(0.8 1)" text-anchor="middle">4</text>
<polygon fill="#cfcfcf" points="79.8,348.55 79.8,353.75 87.2,351.15"/>
<text class="pl" transform="translate(71.6 429) scale(0.8 1)" text-anchor="middle">5</text>
<polygon fill="#cfcfcf" points="79.8,421 79.8,426.2 87.2,423.6"/>
<text class="pl" transform="translate(71.6 501.45) scale(0.8 1)" text-anchor="middle">6</text>
<polygon fill="#cfcfcf" points="79.8,493.45 79.8,498.65 87.2,496.05"/>
<text class="pl" transform="translate(71.6 573.9) scale(0.8 1)" text-anchor="middle">7</text>
<polygon fill="#cfcfcf" points="79.8,565.9 79.8,571.1 87.2,568.5"/>
</g>
<text class="ti" x="296.1" y="145.7" font-size="69.6" textLength="167.9" lengthAdjust="spacingAndGlyphs">TABLA</text>
<text class="ti" x="480.3" y="145.7" font-size="69.6" textLength="274.9" lengthAdjust="spacingAndGlyphs">PERIÓDICA</text>
<text class="ti" x="293" y="219.3" font-size="61.8" textLength="61.95" lengthAdjust="spacingAndGlyphs">DE</text>
<text class="ti" x="369.1" y="219.3" font-size="61.8" textLength="92.4" lengthAdjust="spacingAndGlyphs">LOS</text>
<text class="ti" x="476.7" y="219.3" font-size="61.8" textLength="283.1" lengthAdjust="spacingAndGlyphs">ELEMENTOS</text>
<g id="key">
<rect x="106.9" y="652.1" width="147.7" height="174.3" rx="3.5" fill="#efefef"/>
<polygon fill="#8c8c8c" points="109,737.3 109.2,742.6 145.3,799.7 144.6,799.7"/>
<polygon fill="#8c8c8c" points="253,737.3 252.8,742.6 216.7,799.7 217.4,799.7"/>
<polygon fill="#55b848" points="109,737.3 145,674.95 217,674.95 253,737.3 217,799.65 145,799.65"/>
<polyline fill="none" stroke="#134d14" stroke-width="1.2" points="114.3,735.8 147.1,678.7 214.3,678.7 248.5,735.8"/>
<text class="bsy" transform="translate(181 761.4) scale(0.91 1)" text-anchor="middle">B</text>
<text class="bzn" transform="translate(115.2 677.4) scale(0.89 1)">5</text>
<text class="bms" transform="translate(250.3 670.2) scale(0.84 1)" text-anchor="end">10.811</text>
<text class="bnm" transform="translate(181 821.6) scale(0.67 1)" text-anchor="middle">BORO</text>
<text class="kl" transform="translate(93.6 634.5) scale(0.78 1)">Número atómico</text>
<text class="kl" transform="translate(265.4 634.5) scale(0.78 1)" text-anchor="end">Masa atómica</text>
<text class="kl" transform="translate(112.8 845.6) scale(0.78 1)">Nombre del elemento</text>
<text class="kl" transform="translate(222.2 845.6) scale(0.78 1)">Símbolo</text>
<g fill="none" stroke="#111" stroke-width="0.9">
<polyline points="94.9,639 94.9,666.2 104,666.2"/>
<polyline points="265,639 265,662.1 259,662.1"/>
<polyline points="126.3,833.6 126.3,812.7 139,812.7"/>
<polyline points="235.6,834 235.6,739.6 216,739.6"/>
</g>
<g fill="#111">
<polygon points="102.6,662.2 102.6,670.2 112.2,666.2"/>
<polygon points="260.8,658.2 260.8,666 250.9,662.1"/>
<polygon points="137.8,808.7 137.8,816.7 147.7,812.7"/>
<polygon points="217.8,735.7 217.8,743.5 208.2,739.6"/>
</g>
</g>
<g id="legend">
<polygon fill="#fff" stroke="#d0d0d0" stroke-width="1.2" points="277.1,838.1 299.2,799.82 343.4,799.82 365.5,838.1 343.4,876.38 299.2,876.38"/>
<polygon fill="#f26522" points="301.5,803.81 341.1,803.81 355.76,829.2 286.84,829.2"/>
<polygon fill="#aaa" points="318.3,830.2 324.3,830.2 321.3,836.6"/>
<text class="lg" transform="translate(321.3 851.2) scale(0.79 1)" text-anchor="middle">metales</text>
<text class="lg" transform="translate(321.3 867.8) scale(0.79 1)" text-anchor="middle">alcalinos</text>
<polygon fill="#fff" stroke="#d0d0d0" stroke-width="1.2" points="371.04,838.1 393.14,799.82 437.34,799.82 459.44,838.1 437.34,876.38 393.14,876.38"/>
<polygon fill="#fdc010" points="395.44,803.81 435.04,803.81 449.7,829.2 380.78,829.2"/>
<polygon fill="#aaa" points="412.24,830.2 418.24,830.2 415.24,836.6"/>
<text class="lg2" transform="translate(415.34 851.2) scale(0.77 1)" text-anchor="middle">alcalinotérreos</text>
<polygon fill="#fff" stroke="#d0d0d0" stroke-width="1.2" points="464.98,838.1 487.08,799.82 531.28,799.82 553.38,838.1 531.28,876.38 487.08,876.38"/>
<polygon fill="#f9ec1e" points="489.38,803.81 528.98,803.81 543.64,829.2 474.72,829.2"/>
<polygon fill="#aaa" points="506.18,830.2 512.18,830.2 509.18,836.6"/>
<text class="lg" transform="translate(509.18 851.2) scale(0.79 1)" text-anchor="middle">metales</text>
<polygon fill="#fff" stroke="#d0d0d0" stroke-width="1.2" points="558.92,838.1 581.02,799.82 625.22,799.82 647.32,838.1 625.22,876.38 581.02,876.38"/>
<polygon fill="#b6d430" points="583.32,803.81 622.92,803.81 637.58,829.2 568.66,829.2"/>
<polygon fill="#aaa" points="600.12,830.2 606.12,830.2 603.12,836.6"/>
<text class="lg" transform="translate(603.12 851.2) scale(0.79 1)" text-anchor="middle">metales de</text>
<text class="lg" transform="translate(603.12 867.8) scale(0.79 1)" text-anchor="middle">transición</text>
<polygon fill="#fff" stroke="#d0d0d0" stroke-width="1.2" points="652.86,838.1 674.96,799.82 719.16,799.82 741.26,838.1 719.16,876.38 674.96,876.38"/>
<polygon fill="#4ebfa9" points="677.26,803.81 716.86,803.81 731.52,829.2 662.6,829.2"/>
<polygon fill="#aaa" points="694.06,830.2 700.06,830.2 697.06,836.6"/>
<text class="lg" transform="translate(697.06 851.2) scale(0.79 1)" text-anchor="middle">lantánidos</text>
<polygon fill="#fff" stroke="#d0d0d0" stroke-width="1.2" points="746.8,838.1 768.9,799.82 813.1,799.82 835.2,838.1 813.1,876.38 768.9,876.38"/>
<polygon fill="#55b848" points="771.2,803.81 810.8,803.81 825.46,829.2 756.54,829.2"/>
<polygon fill="#aaa" points="788,830.2 794,830.2 791,836.6"/>
<text class="lg" transform="translate(791 851.2) scale(0.79 1)" text-anchor="middle">metaloides</text>
<polygon fill="#fff" stroke="#d0d0d0" stroke-width="1.2" points="840.74,838.1 862.84,799.82 907.04,799.82 929.14,838.1 907.04,876.38 862.84,876.38"/>
<polygon fill="#5d76bc" points="865.14,803.81 904.74,803.81 919.4,829.2 850.48,829.2"/>
<polygon fill="#aaa" points="881.94,830.2 887.94,830.2 884.94,836.6"/>
<text class="lg" transform="translate(884.94 851.2) scale(0.79 1)" text-anchor="middle">no metales</text>
<polygon fill="#fff" stroke="#d0d0d0" stroke-width="1.2" points="934.68,838.1 956.78,799.82 1000.98,799.82 1023.08,838.1 1000.98,876.38 956.78,876.38"/>
<polygon fill="#ca479c" points="959.08,803.81 998.68,803.81 1013.34,829.2 944.42,829.2"/>
<polygon fill="#aaa" points="975.88,830.2 981.88,830.2 978.88,836.6"/>
<text class="lg" transform="translate(978.88 851.2) scale(0.79 1)" text-anchor="middle">halógenos</text>
<polygon fill="#fff" stroke="#d0d0d0" stroke-width="1.2" points="1028.62,838.1 1050.72,799.82 1094.92,799.82 1117.02,838.1 1094.92,876.38 1050.72,876.38"/>
<polygon fill="#3ec1ef" points="1053.02,803.81 1092.62,803.81 1107.28,829.2 1038.36,829.2"/>
<polygon fill="#aaa" points="1069.82,830.2 1075.82,830.2 1072.82,836.6"/>
<text class="lg" transform="translate(1072.82 847.2) scale(0.79 1)" text-anchor="middle">gases</text>
<text class="lg" transform="translate(1072.82 864.8) scale(0.79 1)" text-anchor="middle">nobles</text>
<polygon fill="#fff" stroke="#d0d0d0" stroke-width="1.2" points="1122.56,838.1 1144.66,799.82 1188.86,799.82 1210.96,838.1 1188.86,876.38 1144.66,876.38"/>
<polygon fill="#5dbb7b" points="1146.96,803.81 1186.56,803.81 1201.22,829.2 1132.3,829.2"/>
<polygon fill="#aaa" points="1163.76,830.2 1169.76,830.2 1166.76,836.6"/>
<text class="lg" transform="translate(1166.76 851.2) scale(0.79 1)" text-anchor="middle">actínidos</text>
</g>
<g class="wm">
<text x="158" y="336" textLength="102" lengthAdjust="spacingAndGlyphs">alamy</text>
<text x="600" y="464" textLength="102" lengthAdjust="spacingAndGlyphs">alamy</text>
<text x="901" y="728" textLength="102" lengthAdjust="spacingAndGlyphs">alamy</text>
<text x="1041" y="342" textLength="102" lengthAdjust="spacingAndGlyphs">alamy</text>
<text class="wa" x="192" y="591" textLength="14" lengthAdjust="spacingAndGlyphs">a</text>
<text class="wa" x="492" y="590" textLength="14" lengthAdjust="spacingAndGlyphs">a</text>
<text class="wa" x="792" y="592" textLength="14" lengthAdjust="spacingAndGlyphs">a</text>
<text class="wa" x="1092" y="590" textLength="14" lengthAdjust="spacingAndGlyphs">a</text>
<text class="wa" x="941" y="204" textLength="14" lengthAdjust="spacingAndGlyphs">a</text>
</g>
<rect x="0" y="910" width="1300" height="90" fill="#000"/>
<text x="49" y="969.7" font-weight="700" font-size="54.5" fill="#fff" stroke="#fff" stroke-width="1.4" textLength="102" lengthAdjust="spacingAndGlyphs">alamy</text>
<text class="ft" x="1128" y="947.3" font-size="13.4" textLength="121.8" lengthAdjust="spacingAndGlyphs">Image ID: RA6TRB</text>
<text class="ft" x="1115.2" y="970.4" font-weight="700" font-size="15.2" textLength="135.4" lengthAdjust="spacingAndGlyphs">www.alamy.com</text>
</svg>
</body></html>
